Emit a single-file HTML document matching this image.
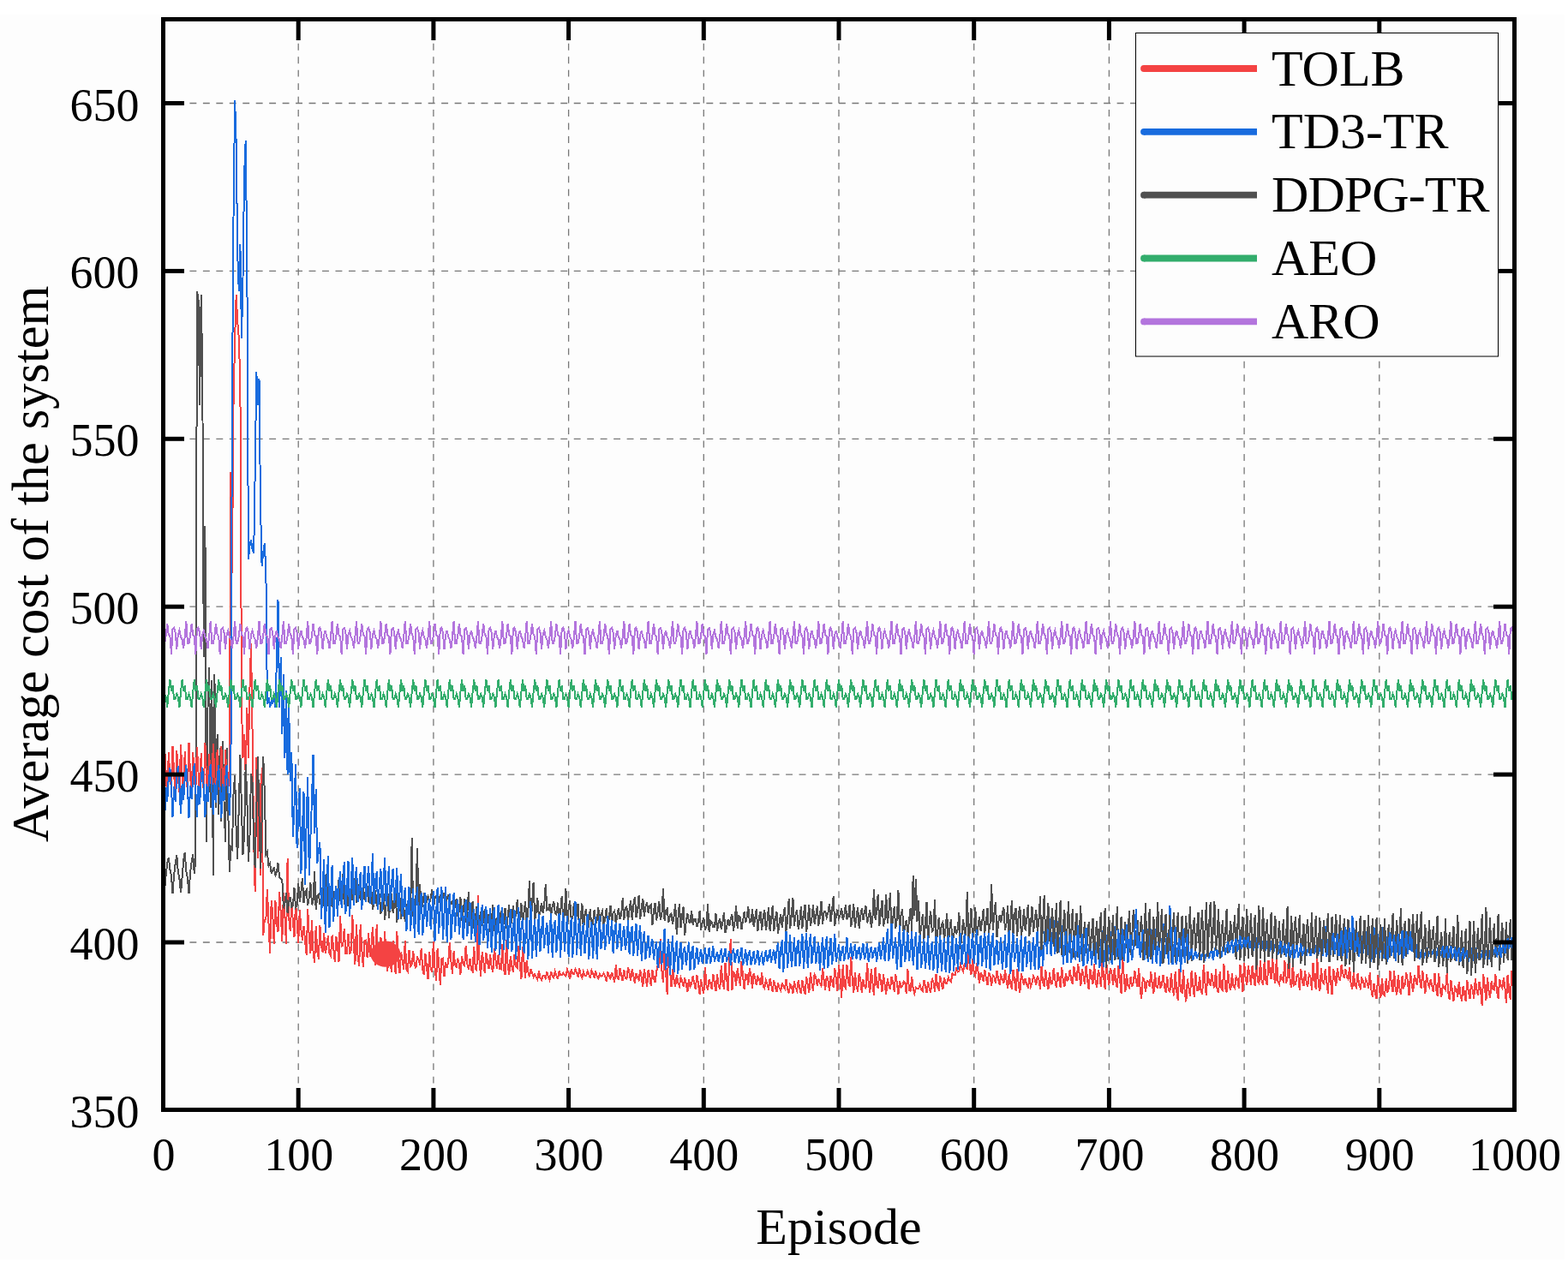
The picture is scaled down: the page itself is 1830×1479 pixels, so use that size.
<!DOCTYPE html>
<html><head><meta charset="utf-8"><title>Average cost of the system</title>
<style>html,body{margin:0;padding:0;background:#fff;} svg{display:block;}</style></head>
<body>
<svg width="1830" height="1479" viewBox="0 0 1830 1479">
<rect width="1830" height="1479" fill="#fff"/>
<rect x="0" y="17" width="1826" height="1453" fill="#fdfdfd"/>
<g stroke="#777" stroke-width="1.3" stroke-dasharray="7.9 7.56" fill="none"><line x1="348.2" y1="1295.5" x2="348.2" y2="22.5"/><line x1="505.9" y1="1295.5" x2="505.9" y2="22.5"/><line x1="663.6" y1="1295.5" x2="663.6" y2="22.5"/><line x1="821.3" y1="1295.5" x2="821.3" y2="22.5"/><line x1="979.0" y1="1295.5" x2="979.0" y2="22.5"/><line x1="1136.7" y1="1295.5" x2="1136.7" y2="22.5"/><line x1="1294.4" y1="1295.5" x2="1294.4" y2="22.5"/><line x1="1452.1" y1="1295.5" x2="1452.1" y2="22.5"/><line x1="1609.8" y1="1295.5" x2="1609.8" y2="22.5"/><line x1="190.5" y1="1100.0" x2="1767.5" y2="1100.0"/><line x1="190.5" y1="904.1" x2="1767.5" y2="904.1"/><line x1="190.5" y1="708.2" x2="1767.5" y2="708.2"/><line x1="190.5" y1="512.3" x2="1767.5" y2="512.3"/><line x1="190.5" y1="316.4" x2="1767.5" y2="316.4"/><line x1="190.5" y1="120.5" x2="1767.5" y2="120.5"/></g>
<g clip-path="url(#clip)">
<polyline fill="none" stroke="#F44343" stroke-width="2" stroke-linejoin="miter" shape-rendering="crispEdges" points="190.5,924.3 192.1,871.9 193.7,902.3 195.2,931.1 196.8,878.4 198.4,906.0 200.0,920.9 201.5,870.9 203.1,901.2 204.7,934.5 206.3,875.8 207.8,907.8 209.4,924.6 211.0,868.6 212.6,907.2 214.2,933.5 215.7,877.1 217.3,907.2 218.9,922.0 220.5,866.8 222.0,902.2 223.6,931.2 225.2,877.8 226.8,910.5 228.3,922.7 229.9,872.1 231.5,901.3 233.1,933.6 234.7,878.6 236.2,911.0 237.8,921.5 239.4,867.1 241.0,906.4 242.5,931.8 244.1,879.7 245.7,906.8 247.3,923.5 248.8,868.3 250.4,906.4 252.0,931.6 253.6,875.3 255.2,905.9 256.7,924.3 258.3,870.7 259.9,903.8 261.5,932.2 263.0,875.4 264.6,908.3 266.2,923.0 267.8,896.3 269.4,551.5 270.9,669.0 272.5,473.1 274.1,394.8 275.7,343.8 277.2,375.2 278.8,394.8 280.4,449.6 282.0,825.7 283.5,884.5 285.1,857.1 286.7,904.1 288.3,825.7 289.9,884.5 291.4,806.1 293.0,751.3 294.6,857.1 296.2,982.5 297.7,1041.2 299.3,884.5 300.9,1002.1 302.5,911.9 304.0,1021.6 305.6,896.3 307.2,1092.2 308.8,1074.0 310.4,1072.9 311.9,1037.6 313.5,1078.1 315.1,1112.5 316.7,1050.7 318.2,1065.3 319.8,1102.4 321.4,1050.6 323.0,1078.8 324.5,1088.0 326.1,1040.8 327.7,1065.2 329.3,1098.8 330.9,1042.2 332.4,1070.0 334.0,1102.3 335.6,1002.1 337.2,1071.3 338.7,1087.1 340.3,1055.7 341.9,1075.4 343.5,1094.0 345.0,1053.4 346.6,1075.2 348.2,1100.6 349.8,1062.1 351.4,1084.9 352.9,1097.6 354.5,1081.2 356.1,1098.9 357.7,1115.2 359.2,1061.3 360.8,1094.4 362.4,1112.5 364.0,1074.1 365.5,1110.1 367.1,1123.6 368.7,1080.8 370.3,1110.2 371.9,1119.7 373.4,1080.1 375.0,1104.9 376.6,1111.6 378.2,1088.6 379.7,1113.0 381.3,1105.7 382.9,1091.9 384.5,1112.6 386.0,1115.7 387.6,1091.6 389.2,1107.2 390.8,1122.8 392.4,1092.9 393.9,1102.7 395.5,1122.8 397.1,1069.0 398.7,1104.8 400.2,1103.9 401.8,1083.9 403.4,1113.1 405.0,1112.9 406.5,1090.3 408.1,1114.1 409.7,1109.8 411.3,1068.4 412.9,1104.7 414.4,1125.6 416.0,1079.0 417.6,1116.8 419.2,1128.0 420.7,1078.9 422.3,1108.4 423.9,1128.9 425.5,1098.1 427.1,1097.4 428.6,1117.9 430.2,1089.1 431.8,1116.7 433.4,1105.1 434.9,1082.2 436.5,1110.3 438.1,1127.2 439.7,1078.8 441.2,1118.4 442.8,1121.9 444.4,1094.1 446.0,1110.1 447.6,1118.0 449.1,1087.4 450.7,1122.0 452.3,1133.6 453.9,1108.1 455.4,1122.6 457.0,1135.2 458.6,1097.9 460.2,1119.9 461.7,1137.2 463.3,1086.9 464.9,1126.1 466.5,1135.9 468.1,1111.6 469.6,1120.6 471.2,1131.7 472.8,1098.1 474.4,1131.9 475.9,1134.2 477.5,1108.7 479.1,1127.9 480.7,1125.8 482.2,1110.6 483.8,1125.5 485.4,1130.2 487.0,1116.4 488.6,1120.6 490.1,1126.4 491.7,1107.2 493.3,1132.5 494.9,1137.7 496.4,1113.0 498.0,1129.3 499.6,1143.1 501.2,1111.1 502.7,1131.5 504.3,1134.9 505.9,1098.7 507.5,1129.5 509.1,1145.1 510.6,1106.8 512.2,1125.1 513.8,1149.6 515.4,1119.5 516.9,1118.8 518.5,1140.2 520.1,1123.3 521.7,1129.7 523.2,1123.0 524.8,1099.8 526.4,1121.5 528.0,1136.5 529.6,1110.3 531.1,1125.8 532.7,1128.7 534.3,1118.7 535.9,1125.7 537.4,1137.9 539.0,1115.8 540.6,1125.8 542.2,1127.5 543.7,1103.7 545.3,1124.8 546.9,1131.6 548.5,1118.9 550.1,1132.3 551.6,1134.2 553.2,1104.6 554.8,1130.9 556.4,1132.3 557.9,1045.1 559.5,1120.6 561.1,1139.5 562.7,1111.4 564.2,1121.4 565.8,1136.1 567.4,1112.1 569.0,1122.8 570.6,1131.3 572.1,1113.9 573.7,1129.1 575.3,1134.9 576.9,1106.8 578.4,1119.9 580.0,1131.3 581.6,1113.6 583.2,1131.3 584.8,1131.5 586.3,1102.3 587.9,1132.0 589.5,1138.2 591.1,1097.4 592.6,1126.3 594.2,1138.1 595.8,1115.8 597.4,1128.2 598.9,1135.1 600.5,1113.8 602.1,1128.2 603.7,1129.7 605.3,1103.7 606.8,1127.1 608.4,1143.3 610.0,1105.5 611.6,1124.3 613.1,1141.5 614.7,1120.8 616.3,1134.4 617.9,1140.3 619.4,1131.3 621.0,1135.9 622.6,1140.3 624.2,1137.2 625.8,1140.5 627.3,1143.4 628.9,1133.2 630.5,1141.4 632.1,1143.7 633.6,1138.9 635.2,1139.1 636.8,1142.0 638.4,1134.3 639.9,1140.2 641.5,1144.1 643.1,1134.0 644.7,1139.2 646.3,1141.4 647.8,1133.6 649.4,1138.5 651.0,1143.0 652.6,1133.0 654.1,1138.4 655.7,1138.5 657.3,1135.4 658.9,1138.3 660.4,1139.4 662.0,1131.4 663.6,1135.7 665.2,1142.9 666.8,1131.2 668.3,1136.5 669.9,1136.6 671.5,1131.6 673.1,1135.9 674.6,1140.4 676.2,1130.4 677.8,1138.4 679.4,1141.3 680.9,1134.1 682.5,1138.6 684.1,1139.2 685.7,1133.8 687.3,1137.3 688.8,1141.9 690.4,1132.4 692.0,1136.4 693.6,1141.6 695.1,1133.3 696.7,1139.4 698.3,1142.0 699.9,1137.3 701.4,1139.6 703.0,1138.8 704.6,1135.9 706.2,1139.9 707.8,1145.6 709.3,1134.4 710.9,1139.9 712.5,1142.2 714.1,1135.0 715.6,1140.2 717.2,1146.6 718.8,1126.2 720.4,1140.1 721.9,1144.1 723.5,1129.8 725.1,1138.1 726.7,1145.3 728.3,1132.0 729.8,1141.8 731.4,1142.5 733.0,1128.7 734.6,1136.6 736.1,1144.8 737.7,1131.6 739.3,1138.5 740.9,1147.9 742.5,1136.2 744.0,1141.3 745.6,1143.8 747.2,1132.5 748.8,1142.1 750.3,1151.5 751.9,1131.1 753.5,1142.0 755.1,1152.1 756.6,1132.3 758.2,1139.0 759.8,1150.7 761.4,1132.5 763.0,1142.1 764.5,1147.3 766.1,1134.9 767.7,1126.1 769.3,1129.7 770.8,1096.1 772.4,1132.8 774.0,1147.2 775.6,1103.9 777.1,1133.7 778.7,1160.9 780.3,1100.7 781.9,1131.4 783.5,1151.9 785.0,1131.5 786.6,1144.2 788.2,1151.9 789.8,1138.2 791.3,1147.3 792.9,1151.2 794.5,1141.0 796.1,1144.7 797.6,1151.7 799.2,1141.6 800.8,1148.7 802.4,1157.9 804.0,1143.0 805.5,1151.6 807.1,1148.3 808.7,1139.6 810.3,1147.5 811.8,1154.8 813.4,1138.3 815.0,1148.6 816.6,1160.7 818.1,1143.0 819.7,1153.1 821.3,1159.9 822.9,1129.4 824.5,1150.2 826.0,1155.6 827.6,1143.4 829.2,1148.0 830.8,1154.9 832.3,1136.7 833.9,1148.1 835.5,1156.7 837.1,1137.5 838.6,1149.5 840.2,1155.0 841.8,1127.3 843.4,1146.4 845.0,1154.7 846.5,1124.3 848.1,1142.5 849.7,1157.3 851.3,1120.7 852.8,1096.1 854.4,1156.3 856.0,1135.0 857.6,1137.3 859.1,1150.6 860.7,1130.5 862.3,1140.6 863.9,1150.9 865.5,1122.2 867.0,1138.0 868.6,1155.1 870.2,1137.5 871.8,1138.1 873.3,1149.8 874.9,1130.4 876.5,1139.4 878.1,1154.0 879.6,1136.4 881.2,1141.6 882.8,1150.2 884.4,1139.9 886.0,1143.0 887.5,1150.1 889.1,1135.1 890.7,1151.1 892.3,1153.8 893.8,1144.2 895.4,1148.3 897.0,1155.5 898.6,1142.4 900.1,1148.9 901.7,1158.0 903.3,1144.6 904.9,1152.3 906.5,1158.0 908.0,1147.6 909.6,1153.2 911.2,1156.4 912.8,1146.9 914.3,1151.9 915.9,1154.1 917.5,1143.3 919.1,1154.9 920.7,1159.3 922.2,1149.0 923.8,1151.5 925.4,1160.2 927.0,1145.1 928.5,1152.7 930.1,1156.6 931.7,1144.3 933.3,1154.4 934.8,1159.9 936.4,1144.0 938.0,1154.5 939.6,1160.7 941.2,1140.2 942.7,1149.1 944.3,1158.7 945.9,1135.5 947.5,1147.7 949.0,1156.6 950.6,1137.2 952.2,1140.6 953.8,1150.9 955.3,1142.7 956.9,1148.1 958.5,1151.0 960.1,1130.0 961.7,1145.3 963.2,1155.6 964.8,1139.5 966.4,1143.8 968.0,1157.2 969.5,1139.0 971.1,1145.2 972.7,1153.0 974.3,1129.9 975.8,1141.8 977.4,1156.9 979.0,1125.7 980.6,1142.6 982.2,1164.7 983.7,1126.1 985.3,1151.1 986.9,1153.4 988.5,1126.4 990.0,1145.7 991.6,1151.6 993.2,1117.0 994.8,1143.9 996.3,1159.2 997.9,1135.0 999.5,1151.1 1001.1,1157.7 1002.7,1135.9 1004.2,1142.8 1005.8,1158.6 1007.4,1143.1 1009.0,1151.0 1010.5,1153.4 1012.1,1124.1 1013.7,1147.7 1015.3,1158.5 1016.8,1131.2 1018.4,1146.9 1020.0,1162.3 1021.6,1128.8 1023.2,1148.6 1024.7,1153.6 1026.3,1136.5 1027.9,1144.9 1029.5,1157.7 1031.0,1137.2 1032.6,1149.5 1034.2,1160.7 1035.8,1142.3 1037.3,1150.7 1038.9,1155.0 1040.5,1140.4 1042.1,1146.2 1043.7,1157.6 1045.2,1137.2 1046.8,1146.8 1048.4,1160.9 1050.0,1144.7 1051.5,1152.5 1053.1,1151.2 1054.7,1145.5 1056.3,1147.2 1057.8,1160.2 1059.4,1131.3 1061.0,1156.1 1062.6,1156.6 1064.2,1140.6 1065.7,1154.3 1067.3,1159.8 1068.9,1153.1 1070.5,1154.4 1072.0,1154.2 1073.6,1149.7 1075.2,1155.1 1076.8,1156.6 1078.4,1143.9 1079.9,1151.2 1081.5,1158.6 1083.1,1146.5 1084.7,1154.1 1086.2,1158.9 1087.8,1141.7 1089.4,1146.7 1091.0,1157.7 1092.5,1137.1 1094.1,1152.0 1095.7,1155.1 1097.3,1139.5 1098.9,1149.3 1100.4,1154.7 1102.0,1141.1 1103.6,1148.2 1105.2,1147.8 1106.7,1140.9 1108.3,1144.5 1109.9,1146.1 1111.5,1136.4 1113.0,1138.4 1114.6,1138.2 1116.2,1130.9 1117.8,1134.5 1119.4,1133.8 1120.9,1126.4 1122.5,1129.9 1124.1,1133.8 1125.7,1125.1 1127.2,1126.2 1128.8,1131.9 1130.4,1112.6 1132.0,1130.4 1133.5,1137.7 1135.1,1119.5 1136.7,1135.3 1138.3,1138.9 1139.9,1124.3 1141.4,1133.4 1143.0,1148.0 1144.6,1135.0 1146.2,1139.4 1147.7,1145.5 1149.3,1131.8 1150.9,1142.1 1152.5,1150.1 1154.0,1135.1 1155.6,1139.4 1157.2,1150.5 1158.8,1139.0 1160.4,1140.8 1161.9,1147.9 1163.5,1133.1 1165.1,1142.7 1166.7,1149.5 1168.2,1138.4 1169.8,1142.4 1171.4,1148.0 1173.0,1131.9 1174.5,1144.0 1176.1,1153.7 1177.7,1137.3 1179.3,1147.8 1180.9,1154.9 1182.4,1131.7 1184.0,1143.8 1185.6,1156.7 1187.2,1130.8 1188.7,1148.7 1190.3,1158.4 1191.9,1136.6 1193.5,1143.4 1195.0,1150.3 1196.6,1142.1 1198.2,1148.6 1199.8,1152.5 1201.4,1141.6 1202.9,1151.5 1204.5,1147.2 1206.1,1139.5 1207.7,1143.7 1209.2,1150.2 1210.8,1138.9 1212.4,1143.2 1214.0,1154.5 1215.5,1128.1 1217.1,1146.3 1218.7,1151.7 1220.3,1131.7 1221.9,1147.3 1223.4,1155.0 1225.0,1135.5 1226.6,1148.7 1228.2,1148.3 1229.7,1129.8 1231.3,1144.0 1232.9,1152.7 1234.5,1135.5 1236.1,1142.2 1237.6,1153.0 1239.2,1128.9 1240.8,1144.7 1242.4,1152.2 1243.9,1135.7 1245.5,1144.8 1247.1,1142.9 1248.7,1132.1 1250.2,1143.9 1251.8,1148.9 1253.4,1128.0 1255.0,1138.6 1256.6,1145.1 1258.1,1124.8 1259.7,1137.0 1261.3,1151.4 1262.9,1131.5 1264.4,1138.5 1266.0,1148.5 1267.6,1127.0 1269.2,1145.4 1270.7,1154.7 1272.3,1130.9 1273.9,1140.3 1275.5,1148.6 1277.1,1125.1 1278.6,1145.2 1280.2,1152.8 1281.8,1132.4 1283.4,1138.7 1284.9,1152.2 1286.5,1123.2 1288.1,1139.5 1289.7,1155.0 1291.2,1122.1 1292.8,1139.6 1294.4,1149.5 1296.0,1129.7 1297.6,1137.2 1299.1,1150.2 1300.7,1129.6 1302.3,1146.3 1303.9,1153.2 1305.4,1126.6 1307.0,1142.4 1308.6,1160.1 1310.2,1118.1 1311.7,1140.0 1313.3,1158.3 1314.9,1136.9 1316.5,1150.5 1318.1,1152.7 1319.6,1139.9 1321.2,1151.6 1322.8,1146.4 1324.4,1133.2 1325.9,1145.9 1327.5,1152.0 1329.1,1130.1 1330.7,1154.5 1332.2,1165.6 1333.8,1142.0 1335.4,1143.6 1337.0,1157.9 1338.6,1145.1 1340.1,1145.9 1341.7,1151.4 1343.3,1134.5 1344.9,1150.3 1346.4,1159.5 1348.0,1135.1 1349.6,1152.4 1351.2,1153.2 1352.7,1139.0 1354.3,1153.8 1355.9,1149.3 1357.5,1137.9 1359.1,1151.6 1360.6,1158.7 1362.2,1140.6 1363.8,1155.6 1365.4,1157.4 1366.9,1136.0 1368.5,1153.2 1370.1,1162.4 1371.7,1133.6 1373.2,1156.6 1374.8,1168.0 1376.4,1131.2 1378.0,1156.7 1379.6,1158.8 1381.1,1132.3 1382.7,1158.2 1384.3,1169.4 1385.9,1142.6 1387.4,1153.0 1389.0,1162.8 1390.6,1133.3 1392.2,1149.2 1393.8,1163.9 1395.3,1134.8 1396.9,1155.9 1398.5,1155.8 1400.1,1139.9 1401.6,1156.7 1403.2,1161.2 1404.8,1125.7 1406.4,1147.2 1407.9,1162.3 1409.5,1133.6 1411.1,1147.5 1412.7,1149.4 1414.3,1136.6 1415.8,1148.1 1417.4,1153.3 1419.0,1131.4 1420.6,1155.1 1422.1,1159.2 1423.7,1134.3 1425.3,1153.6 1426.9,1155.8 1428.4,1124.6 1430.0,1152.7 1431.6,1158.4 1433.2,1133.5 1434.8,1151.1 1436.3,1156.0 1437.9,1135.9 1439.5,1150.6 1441.1,1153.3 1442.6,1140.2 1444.2,1143.3 1445.8,1153.9 1447.4,1125.6 1448.9,1140.8 1450.5,1157.8 1452.1,1123.6 1453.7,1142.0 1455.3,1150.0 1456.8,1127.6 1458.4,1137.6 1460.0,1149.6 1461.6,1126.7 1463.1,1139.6 1464.7,1151.1 1466.3,1121.0 1467.9,1145.4 1469.4,1148.0 1471.0,1120.7 1472.6,1145.6 1474.2,1149.6 1475.8,1119.0 1477.3,1143.8 1478.9,1150.1 1480.5,1121.1 1482.1,1133.3 1483.6,1143.1 1485.2,1119.0 1486.8,1140.2 1488.4,1147.5 1489.9,1117.8 1491.5,1145.5 1493.1,1149.0 1494.7,1137.6 1496.3,1143.3 1497.8,1145.4 1499.4,1120.8 1501.0,1148.3 1502.6,1141.0 1504.1,1114.1 1505.7,1146.4 1507.3,1153.0 1508.9,1122.4 1510.4,1150.1 1512.0,1148.8 1513.6,1138.4 1515.2,1137.5 1516.8,1155.9 1518.3,1131.5 1519.9,1145.4 1521.5,1150.9 1523.1,1132.9 1524.6,1146.0 1526.2,1152.1 1527.8,1137.3 1529.4,1140.1 1531.0,1155.8 1532.5,1124.3 1534.1,1142.2 1535.7,1154.8 1537.3,1118.3 1538.8,1148.7 1540.4,1157.1 1542.0,1130.3 1543.6,1146.8 1545.1,1148.1 1546.7,1131.2 1548.3,1146.2 1549.9,1159.7 1551.5,1127.8 1553.0,1144.8 1554.6,1161.4 1556.2,1130.8 1557.8,1141.4 1559.3,1150.6 1560.9,1130.0 1562.5,1140.7 1564.1,1144.9 1565.6,1126.4 1567.2,1135.6 1568.8,1142.0 1570.4,1131.6 1572.0,1140.7 1573.5,1142.9 1575.1,1129.3 1576.7,1148.8 1578.3,1154.9 1579.8,1135.0 1581.4,1150.6 1583.0,1152.8 1584.6,1135.7 1586.1,1150.1 1587.7,1153.7 1589.3,1141.7 1590.9,1145.1 1592.5,1153.2 1594.0,1143.4 1595.6,1147.1 1597.2,1153.5 1598.8,1134.9 1600.3,1154.9 1601.9,1164.3 1603.5,1147.7 1605.1,1159.7 1606.6,1165.8 1608.2,1137.6 1609.8,1153.5 1611.4,1164.7 1613.0,1142.3 1614.5,1160.2 1616.1,1162.1 1617.7,1142.4 1619.3,1158.4 1620.8,1154.2 1622.4,1133.0 1624.0,1149.1 1625.6,1158.3 1627.1,1133.2 1628.7,1154.9 1630.3,1161.3 1631.9,1137.7 1633.5,1153.8 1635.0,1161.3 1636.6,1138.9 1638.2,1152.4 1639.8,1149.2 1641.3,1135.5 1642.9,1145.0 1644.5,1162.4 1646.1,1135.2 1647.6,1149.2 1649.2,1157.6 1650.8,1138.3 1652.4,1145.2 1654.0,1149.7 1655.5,1126.6 1657.1,1144.0 1658.7,1154.2 1660.3,1132.9 1661.8,1147.5 1663.4,1159.5 1665.0,1137.5 1666.6,1148.0 1668.1,1152.0 1669.7,1143.1 1671.3,1150.9 1672.9,1158.3 1674.5,1135.6 1676.0,1154.7 1677.6,1162.7 1679.2,1136.2 1680.8,1157.0 1682.3,1163.9 1683.9,1150.3 1685.5,1152.9 1687.1,1155.3 1688.7,1135.8 1690.2,1158.6 1691.8,1166.9 1693.4,1143.9 1695.0,1156.5 1696.5,1168.5 1698.1,1152.5 1699.7,1154.7 1701.3,1163.5 1702.8,1145.7 1704.4,1160.4 1706.0,1168.7 1707.6,1151.0 1709.2,1160.0 1710.7,1169.0 1712.3,1143.9 1713.9,1158.6 1715.5,1165.8 1717.0,1148.7 1718.6,1155.5 1720.2,1165.9 1721.8,1142.5 1723.3,1154.7 1724.9,1161.5 1726.5,1145.9 1728.1,1156.4 1729.7,1173.9 1731.2,1137.1 1732.8,1151.6 1734.4,1168.4 1736.0,1140.9 1737.5,1156.4 1739.1,1164.5 1740.7,1145.1 1742.3,1154.1 1743.8,1155.3 1745.4,1137.5 1747.0,1157.5 1748.6,1165.6 1750.2,1142.9 1751.7,1150.3 1753.3,1153.4 1754.9,1141.3 1756.5,1154.1 1758.0,1171.0 1759.6,1137.9 1761.2,1156.3 1762.8,1167.2 1764.3,1133.1 1765.9,1147.1 1767.5,1168.2"/>
<polyline fill="none" stroke="#505050" stroke-width="2" stroke-linejoin="miter" shape-rendering="crispEdges" points="190.5,974.6 192.1,1039.1 193.7,1021.0 195.2,1007.3 196.8,1001.2 198.4,1014.9 200.0,1022.6 201.5,1042.9 203.1,1021.0 204.7,1008.0 206.3,998.5 207.8,1017.8 209.4,1025.3 211.0,1042.3 212.6,1024.1 214.2,1003.9 215.7,995.2 217.3,1016.5 218.9,1025.6 220.5,1042.9 222.0,1020.0 223.6,1005.8 225.2,997.4 226.8,1020.3 228.3,1002.1 229.9,339.9 231.5,347.7 233.1,473.1 234.7,343.8 236.2,426.1 237.8,767.0 239.4,614.2 241.0,982.5 242.5,825.7 244.1,778.7 245.7,943.3 247.3,794.4 248.8,1021.6 250.4,786.6 252.0,943.3 253.6,857.1 255.2,951.1 256.7,872.8 258.3,959.0 259.9,864.9 261.5,935.4 263.0,982.5 264.6,872.8 266.2,943.3 267.8,1017.7 269.4,988.6 270.9,991.3 272.5,927.3 274.1,905.3 275.7,971.5 277.2,1002.5 278.8,940.5 280.4,880.8 282.0,946.4 283.5,997.5 285.1,974.6 286.7,892.4 288.3,930.1 289.9,1005.9 291.4,980.4 293.0,903.1 294.6,913.8 296.2,986.8 297.7,1012.7 299.3,943.8 300.9,883.1 302.5,952.7 304.0,1014.1 305.6,957.3 307.2,883.2 308.8,924.0 310.4,997.0 311.9,994.2 313.5,1011.1 315.1,1007.8 316.7,1019.5 318.2,1015.6 319.8,1013.3 321.4,1021.8 323.0,1017.7 324.5,1007.5 326.1,1024.3 327.7,1025.7 329.3,1026.6 330.9,1060.3 332.4,1055.1 334.0,1042.1 335.6,1065.8 337.2,1052.2 338.7,1046.9 340.3,1058.8 341.9,1057.4 343.5,1036.5 345.0,1059.2 346.6,1056.8 348.2,1030.8 349.8,1053.3 351.4,1041.6 352.9,1024.8 354.5,1054.2 356.1,1040.8 357.7,1038.8 359.2,1057.1 360.8,1047.1 362.4,1030.3 364.0,1056.3 365.5,1051.9 367.1,1016.7 368.7,1062.2 370.3,1046.0 371.9,1044.4 373.4,1054.8 375.0,1052.3 376.6,1034.7 378.2,1058.4 379.7,1051.6 381.3,1020.5 382.9,1057.9 384.5,1041.5 386.0,1035.2 387.6,1059.0 389.2,1041.2 390.8,1041.0 392.4,1048.1 393.9,1042.4 395.5,1027.5 397.1,1052.3 398.7,1044.0 400.2,1019.8 401.8,1056.3 403.4,1043.6 405.0,1031.2 406.5,1057.5 408.1,1042.1 409.7,1038.0 411.3,1050.9 412.9,1038.2 414.4,1024.8 416.0,1053.5 417.6,1040.2 419.2,1032.0 420.7,1051.0 422.3,1038.7 423.9,1035.3 425.5,1049.5 427.1,1048.3 428.6,1034.0 430.2,1052.7 431.8,1053.3 433.4,1039.1 434.9,1062.1 436.5,1053.9 438.1,1039.0 439.7,1057.7 441.2,1050.4 442.8,1042.6 444.4,1066.6 446.0,1057.2 447.6,1043.1 449.1,1073.8 450.7,1053.5 452.3,1038.8 453.9,1071.9 455.4,1055.8 457.0,1043.5 458.6,1065.6 460.2,1057.7 461.7,1042.0 463.3,1076.7 464.9,1057.9 466.5,1047.5 468.1,1072.6 469.6,1060.2 471.2,1058.9 472.8,1075.9 474.4,1068.3 475.9,1051.1 477.5,1066.8 479.1,1065.1 480.7,978.5 482.2,1069.9 483.8,1061.9 485.4,1048.6 487.0,990.3 488.6,1059.8 490.1,1032.0 491.7,1062.5 493.3,1055.9 494.9,1042.5 496.4,1065.9 498.0,1049.4 499.6,1046.2 501.2,1053.7 502.7,1048.2 504.3,1038.1 505.9,1061.3 507.5,1048.5 509.1,1045.6 510.6,1058.4 512.2,1051.3 513.8,1044.6 515.4,1053.9 516.9,1047.7 518.5,1042.1 520.1,1053.7 521.7,1049.6 523.2,1044.0 524.8,1058.4 526.4,1052.7 528.0,1052.1 529.6,1063.7 531.1,1057.1 532.7,1049.1 534.3,1067.1 535.9,1063.6 537.4,1046.9 539.0,1074.5 540.6,1064.8 542.2,1048.9 543.7,1077.0 545.3,1066.5 546.9,1040.6 548.5,1080.9 550.1,1070.1 551.6,1052.4 553.2,1084.0 554.8,1072.3 556.4,1058.0 557.9,1077.6 559.5,1075.3 561.1,1063.7 562.7,1080.9 564.2,1076.2 565.8,1060.8 567.4,1085.6 569.0,1074.9 570.6,1067.1 572.1,1087.8 573.7,1077.4 575.3,1056.0 576.9,1086.5 578.4,1075.6 580.0,1071.4 581.6,1084.1 583.2,1074.2 584.8,1063.2 586.3,1087.6 587.9,1076.5 589.5,1059.8 591.1,1083.7 592.6,1070.5 594.2,1055.8 595.8,1082.5 597.4,1072.8 598.9,1057.3 600.5,1070.9 602.1,1069.4 603.7,1050.3 605.3,1082.0 606.8,1072.2 608.4,1054.1 610.0,1078.7 611.6,1064.0 613.1,1052.1 614.7,1076.7 616.3,1065.4 617.9,1028.0 619.4,1078.1 621.0,1057.3 622.6,1029.6 624.2,1073.2 625.8,1064.4 627.3,1047.6 628.9,1070.5 630.5,1063.7 632.1,1053.7 633.6,1066.1 635.2,1056.8 636.8,1032.0 638.4,1062.3 639.9,1061.9 641.5,1054.7 643.1,1068.7 644.7,1058.1 646.3,1052.5 647.8,1065.6 649.4,1067.4 651.0,1053.6 652.6,1073.8 654.1,1064.6 655.7,1046.3 657.3,1074.9 658.9,1066.4 660.4,1036.6 662.0,1082.9 663.6,1060.9 665.2,1051.4 666.8,1075.2 668.3,1070.9 669.9,1054.2 671.5,1074.7 673.1,1066.6 674.6,1054.8 676.2,1087.8 677.8,1070.1 679.4,1054.6 680.9,1087.7 682.5,1067.1 684.1,1061.0 685.7,1090.1 687.3,1076.6 688.8,1061.5 690.4,1083.7 692.0,1077.6 693.6,1062.6 695.1,1079.1 696.7,1074.7 698.3,1058.7 699.9,1081.9 701.4,1067.5 703.0,1063.8 704.6,1080.0 706.2,1072.8 707.8,1060.3 709.3,1085.6 710.9,1070.2 712.5,1056.9 714.1,1078.1 715.6,1065.4 717.2,1063.3 718.8,1078.4 720.4,1068.9 721.9,1060.4 723.5,1072.8 725.1,1068.3 726.7,1048.3 728.3,1074.0 729.8,1060.4 731.4,1058.6 733.0,1075.3 734.6,1062.4 736.1,1050.8 737.7,1073.7 739.3,1056.3 740.9,1046.7 742.5,1070.8 744.0,1064.0 745.6,1045.4 747.2,1072.5 748.8,1059.5 750.3,1048.7 751.9,1070.1 753.5,1058.0 755.1,1053.0 756.6,1065.7 758.2,1057.6 759.8,1056.0 761.4,1079.7 763.0,1062.7 764.5,1053.9 766.1,1074.4 767.7,1063.6 769.3,1052.2 770.8,1074.3 772.4,1067.5 774.0,1037.0 775.6,1075.3 777.1,1063.3 778.7,1060.8 780.3,1076.7 781.9,1068.5 783.5,1066.9 785.0,1078.9 786.6,1069.4 788.2,1055.1 789.8,1091.1 791.3,1073.7 792.9,1054.9 794.5,1083.2 796.1,1068.3 797.6,1058.6 799.2,1092.0 800.8,1075.6 802.4,1066.2 804.0,1076.2 805.5,1077.1 807.1,1063.4 808.7,1079.6 810.3,1073.0 811.8,1072.7 813.4,1082.2 815.0,1076.1 816.6,1063.1 818.1,1085.8 819.7,1076.6 821.3,1071.1 822.9,1085.6 824.5,1081.3 826.0,1055.4 827.6,1088.0 829.2,1074.9 830.8,1076.3 832.3,1082.0 833.9,1081.8 835.5,1066.5 837.1,1087.3 838.6,1076.9 840.2,1072.5 841.8,1084.7 843.4,1076.6 845.0,1064.8 846.5,1088.7 848.1,1082.6 849.7,1073.1 851.3,1080.5 852.8,1072.5 854.4,1067.6 856.0,1086.8 857.6,1075.4 859.1,1056.6 860.7,1083.7 862.3,1069.5 863.9,1071.1 865.5,1084.8 867.0,1075.3 868.6,1064.4 870.2,1077.1 871.8,1069.6 873.3,1058.2 874.9,1076.5 876.5,1075.9 878.1,1061.2 879.6,1081.5 881.2,1072.6 882.8,1061.1 884.4,1087.2 886.0,1070.1 887.5,1063.9 889.1,1086.2 890.7,1070.7 892.3,1061.9 893.8,1086.2 895.4,1076.2 897.0,1059.4 898.6,1086.5 900.1,1073.7 901.7,1057.2 903.3,1087.1 904.9,1071.8 906.5,1064.6 908.0,1090.1 909.6,1076.9 911.2,1067.5 912.8,1082.4 914.3,1069.0 915.9,1058.8 917.5,1086.6 919.1,1074.4 920.7,1049.3 922.2,1084.1 923.8,1068.0 925.4,1047.8 927.0,1080.9 928.5,1067.9 930.1,1062.2 931.7,1085.0 933.3,1076.1 934.8,1058.3 936.4,1083.7 938.0,1066.9 939.6,1055.9 941.2,1088.0 942.7,1073.6 944.3,1056.5 945.9,1081.2 947.5,1071.5 949.0,1055.7 950.6,1078.7 952.2,1069.0 953.8,1057.6 955.3,1080.8 956.9,1070.0 958.5,1052.1 960.1,1078.9 961.7,1063.7 963.2,1063.9 964.8,1070.7 966.4,1065.3 968.0,1055.2 969.5,1076.1 971.1,1062.8 972.7,1045.9 974.3,1080.7 975.8,1069.5 977.4,1061.7 979.0,1071.8 980.6,1067.7 982.2,1060.4 983.7,1073.4 985.3,1068.9 986.9,1056.5 988.5,1072.2 990.0,1070.4 991.6,1056.0 993.2,1082.2 994.8,1069.3 996.3,1055.2 997.9,1082.7 999.5,1071.1 1001.1,1059.1 1002.7,1083.5 1004.2,1069.5 1005.8,1060.0 1007.4,1074.3 1009.0,1064.1 1010.5,1057.6 1012.1,1077.4 1013.7,1070.4 1015.3,1062.3 1016.8,1082.5 1018.4,1071.5 1020.0,1038.5 1021.6,1073.7 1023.2,1063.3 1024.7,1044.2 1026.3,1080.5 1027.9,1066.2 1029.5,1050.7 1031.0,1081.4 1032.6,1073.2 1034.2,1043.7 1035.8,1077.7 1037.3,1066.1 1038.9,1042.0 1040.5,1086.3 1042.1,1073.6 1043.7,1058.3 1045.2,1083.5 1046.8,1072.9 1048.4,1038.7 1050.0,1087.3 1051.5,1068.1 1053.1,1061.1 1054.7,1089.9 1056.3,1081.5 1057.8,1073.7 1059.4,1090.1 1061.0,1074.5 1062.6,1060.4 1064.2,1086.7 1065.7,1021.6 1067.3,1068.7 1068.9,1025.6 1070.5,1075.5 1072.0,1050.9 1073.6,1090.9 1075.2,1083.1 1076.8,1067.1 1078.4,1096.0 1079.9,1080.2 1081.5,1052.9 1083.1,1102.2 1084.7,1076.4 1086.2,1063.6 1087.8,1087.0 1089.4,1085.1 1091.0,1050.3 1092.5,1100.3 1094.1,1089.6 1095.7,1070.7 1097.3,1092.5 1098.9,1079.3 1100.4,1076.5 1102.0,1097.4 1103.6,1083.2 1105.2,1065.6 1106.7,1102.1 1108.3,1085.1 1109.9,1073.5 1111.5,1100.4 1113.0,1093.0 1114.6,1080.9 1116.2,1090.3 1117.8,1084.5 1119.4,1065.5 1120.9,1107.7 1122.5,1090.9 1124.1,1072.9 1125.7,1087.6 1127.2,1092.1 1128.8,1041.2 1130.4,1095.1 1132.0,1087.0 1133.5,1060.4 1135.1,1096.4 1136.7,1085.5 1138.3,1058.9 1139.9,1098.2 1141.4,1082.4 1143.0,1069.8 1144.6,1086.9"/>
<polyline fill="none" stroke="#F44343" stroke-width="2" stroke-linejoin="miter" shape-rendering="crispEdges" points="190.5,924.3 192.1,871.9 193.7,902.3 195.2,931.1 196.8,878.4 198.4,906.0 200.0,920.9 201.5,870.9 203.1,901.2 204.7,934.5 206.3,875.8 207.8,907.8 209.4,924.6 211.0,868.6 212.6,907.2 214.2,933.5 215.7,877.1 217.3,907.2 218.9,922.0 220.5,866.8 222.0,902.2 223.6,931.2 225.2,877.8 226.8,910.5 228.3,922.7 229.9,872.1 231.5,901.3 233.1,933.6 234.7,878.6 236.2,911.0 237.8,921.5 239.4,867.1 241.0,906.4 242.5,931.8 244.1,879.7 245.7,906.8 247.3,923.5 248.8,868.3 250.4,906.4 252.0,931.6 253.6,875.3 255.2,905.9 256.7,924.3 258.3,870.7 259.9,903.8 261.5,932.2 263.0,875.4 264.6,908.3 266.2,923.0"/>
<polyline fill="none" stroke="#505050" stroke-width="2" stroke-linejoin="miter" shape-rendering="crispEdges" points="1128.8,1041.2 1130.4,1095.1 1132.0,1087.0 1133.5,1060.4 1135.1,1096.4 1136.7,1085.5 1138.3,1058.9 1139.9,1098.2 1141.4,1082.4 1143.0,1069.8 1144.6,1086.9 1146.2,1075.6 1147.7,1061.2 1149.3,1088.8 1150.9,1076.8 1152.5,1060.2 1154.0,1089.3 1155.6,1077.3 1157.2,1032.1 1158.8,1085.9 1160.4,1066.7 1161.9,1052.6 1163.5,1093.9 1165.1,1077.9 1166.7,1067.9 1168.2,1076.9 1169.8,1066.6 1171.4,1058.8 1173.0,1086.2 1174.5,1078.0 1176.1,1057.5 1177.7,1096.6 1179.3,1076.6 1180.9,1051.1 1182.4,1091.4 1184.0,1067.0 1185.6,1060.1 1187.2,1092.7 1188.7,1069.2 1190.3,1057.7 1191.9,1092.6 1193.5,1080.9 1195.0,1061.3 1196.6,1086.4 1198.2,1074.1 1199.8,1056.4 1201.4,1092.6 1202.9,1078.1 1204.5,1058.4 1206.1,1088.1 1207.7,1072.2 1209.2,1062.4 1210.8,1087.3 1212.4,1074.4 1214.0,1045.9 1215.5,1108.7 1217.1,1079.0 1218.7,1045.2 1220.3,1100.4 1221.9,1079.4 1223.4,1054.3 1225.0,1098.5 1226.6,1083.2 1228.2,1059.8 1229.7,1105.3 1231.3,1087.2 1232.9,1054.2 1234.5,1112.6 1236.1,1079.1 1237.6,1051.1 1239.2,1115.2 1240.8,1081.6 1242.4,1061.6 1243.9,1115.4 1245.5,1084.5 1247.1,1051.6 1248.7,1112.6 1250.2,1089.3 1251.8,1060.6 1253.4,1117.8 1255.0,1081.0 1256.6,1065.6 1258.1,1118.2 1259.7,1091.8 1261.3,1056.9 1262.9,1121.7 1264.4,1096.2 1266.0,1076.2 1267.6,1113.0 1269.2,1097.5 1270.7,1076.3 1272.3,1109.5 1273.9,1092.1 1275.5,1071.6 1277.1,1116.2 1278.6,1090.3 1280.2,1075.3 1281.8,1119.5 1283.4,1085.8 1284.9,1065.0 1286.5,1123.9 1288.1,1088.1 1289.7,1059.9 1291.2,1130.0 1292.8,1091.9 1294.4,1070.3 1296.0,1121.4 1297.6,1091.5 1299.1,1067.6 1300.7,1121.4 1302.3,1090.3 1303.9,1058.0 1305.4,1120.2 1307.0,1100.3 1308.6,1069.7 1310.2,1119.7 1311.7,1094.9 1313.3,1075.7 1314.9,1107.2 1316.5,1088.2 1318.1,1062.6 1319.6,1115.3 1321.2,1094.8 1322.8,1062.5 1324.4,1104.9 1325.9,1094.1 1327.5,1073.9 1329.1,1107.3 1330.7,1085.9 1332.2,1068.6 1333.8,1121.2 1335.4,1093.0 1337.0,1054.5 1338.6,1118.8 1340.1,1095.3 1341.7,1061.5 1343.3,1120.4 1344.9,1096.0 1346.4,1070.4 1348.0,1108.6 1349.6,1092.7 1351.2,1053.1 1352.7,1105.5 1354.3,1091.7 1355.9,1061.0 1357.5,1125.1 1359.1,1086.4 1360.6,1067.2 1362.2,1113.9 1363.8,1098.0 1365.4,1068.0 1366.9,1123.7 1368.5,1088.6 1370.1,1064.8 1371.7,1124.3 1373.2,1086.4 1374.8,1065.4 1376.4,1117.3 1378.0,1097.9 1379.6,1068.6 1381.1,1116.6 1382.7,1098.4 1384.3,1069.0 1385.9,1124.9 1387.4,1086.5 1389.0,1058.3 1390.6,1122.4 1392.2,1088.9 1393.8,1071.1 1395.3,1109.5 1396.9,1087.1 1398.5,1064.7 1400.1,1121.4 1401.6,1082.4 1403.2,1062.4 1404.8,1124.4 1406.4,1088.5 1407.9,1052.7 1409.5,1117.3 1411.1,1080.5 1412.7,1053.4 1414.3,1110.0 1415.8,1085.9 1417.4,1052.2 1419.0,1108.9 1420.6,1093.7 1422.1,1061.2 1423.7,1118.5 1425.3,1092.3 1426.9,1074.4 1428.4,1110.7 1430.0,1092.2 1431.6,1061.1 1433.2,1112.7 1434.8,1096.2 1436.3,1074.8 1437.9,1105.2 1439.5,1089.2 1441.1,1068.5 1442.6,1119.5 1444.2,1083.6 1445.8,1054.9 1447.4,1120.9 1448.9,1089.3 1450.5,1070.5 1452.1,1122.3 1453.7,1099.2 1455.3,1060.6 1456.8,1118.9 1458.4,1091.1 1460.0,1066.0 1461.6,1117.2 1463.1,1098.1 1464.7,1067.8 1466.3,1132.3 1467.9,1091.3 1469.4,1057.2 1471.0,1119.3 1472.6,1091.3 1474.2,1059.3 1475.8,1122.7 1477.3,1089.6 1478.9,1073.4 1480.5,1117.1 1482.1,1100.9 1483.6,1065.0 1485.2,1118.6 1486.8,1091.6 1488.4,1069.1 1489.9,1120.3 1491.5,1095.7 1493.1,1075.0 1494.7,1117.9 1496.3,1102.5 1497.8,1072.7 1499.4,1115.4 1501.0,1096.6 1502.6,1058.2 1504.1,1131.3 1505.7,1102.0 1507.3,1069.2 1508.9,1129.4 1510.4,1087.9 1512.0,1069.7 1513.6,1110.2 1515.2,1094.8 1516.8,1067.6 1518.3,1124.8 1519.9,1098.7 1521.5,1078.4 1523.1,1127.1 1524.6,1088.0 1526.2,1072.7 1527.8,1113.1 1529.4,1102.8 1531.0,1065.5 1532.5,1112.9 1534.1,1103.2 1535.7,1069.0 1537.3,1118.5 1538.8,1103.5 1540.4,1070.7 1542.0,1123.0 1543.6,1095.6 1545.1,1073.9 1546.7,1111.5 1548.3,1091.8 1549.9,1065.9 1551.5,1123.4 1553.0,1098.1 1554.6,1069.9 1556.2,1116.9 1557.8,1090.3 1559.3,1067.5 1560.9,1121.2 1562.5,1097.6 1564.1,1067.8 1565.6,1122.2 1567.2,1105.8 1568.8,1072.0 1570.4,1127.9 1572.0,1105.7 1573.5,1073.4 1575.1,1126.3 1576.7,1104.7 1578.3,1073.2 1579.8,1135.2 1581.4,1105.7 1583.0,1075.5 1584.6,1116.3 1586.1,1093.9 1587.7,1069.3 1589.3,1125.2 1590.9,1095.1 1592.5,1073.8 1594.0,1124.5 1595.6,1101.5 1597.2,1068.2 1598.8,1130.0 1600.3,1106.4 1601.9,1072.5 1603.5,1124.0 1605.1,1098.5 1606.6,1071.5 1608.2,1131.9 1609.8,1105.5 1611.4,1079.4 1613.0,1122.2 1614.5,1099.3 1616.1,1072.0 1617.7,1125.7 1619.3,1099.8 1620.8,1078.8 1622.4,1117.5 1624.0,1091.3 1625.6,1066.4 1627.1,1118.5 1628.7,1101.1 1630.3,1073.7 1631.9,1124.3 1633.5,1089.9 1635.0,1060.2 1636.6,1127.3 1638.2,1089.0 1639.8,1075.5 1641.3,1116.6 1642.9,1096.7 1644.5,1072.5 1646.1,1108.6 1647.6,1095.8 1649.2,1067.2 1650.8,1121.9 1652.4,1091.0 1654.0,1067.4 1655.5,1119.0 1657.1,1089.6 1658.7,1063.9 1660.3,1127.1 1661.8,1103.3 1663.4,1079.4 1665.0,1124.4 1666.6,1106.4 1668.1,1074.0 1669.7,1118.4 1671.3,1097.5 1672.9,1081.4 1674.5,1123.4 1676.0,1098.8 1677.6,1068.8 1679.2,1129.4 1680.8,1104.8 1682.3,1088.1 1683.9,1127.6 1685.5,1111.8 1687.1,1072.5 1688.7,1136.4 1690.2,1107.8 1691.8,1087.7 1693.4,1122.7 1695.0,1100.2 1696.5,1081.4 1698.1,1121.4 1699.7,1112.0 1701.3,1067.7 1702.8,1126.5 1704.4,1111.5 1706.0,1085.6 1707.6,1130.1 1709.2,1111.3 1710.7,1083.7 1712.3,1137.3 1713.9,1111.6 1715.5,1075.4 1717.0,1138.7 1718.6,1112.8 1720.2,1075.1 1721.8,1135.9 1723.3,1112.2 1724.9,1082.6 1726.5,1121.1 1728.1,1104.9 1729.7,1067.4 1731.2,1130.3 1732.8,1109.3 1734.4,1058.7 1736.0,1126.8 1737.5,1101.9 1739.1,1071.4 1740.7,1129.4 1742.3,1105.5 1743.8,1078.2 1745.4,1117.5 1747.0,1107.7 1748.6,1066.9 1750.2,1133.3 1751.7,1097.7 1753.3,1076.7 1754.9,1124.2 1756.5,1103.1 1758.0,1076.0 1759.6,1121.3 1761.2,1097.0 1762.8,1072.6 1764.3,1121.0 1765.9,1096.4 1767.5,1076.0"/>
<polyline fill="none" stroke="#186BDE" stroke-width="2" stroke-linejoin="miter" shape-rendering="crispEdges" points="190.5,919.8 192.1,954.8 193.7,918.8 195.2,935.7 196.8,907.5 198.4,896.6 200.0,918.1 201.5,954.1 203.1,917.7 204.7,936.0 206.3,906.3 207.8,894.0 209.4,917.3 211.0,950.3 212.6,915.5 214.2,933.5 215.7,909.0 217.3,893.4 218.9,918.9 220.5,954.5 222.0,917.3 223.6,932.8 225.2,909.2 226.8,891.3 228.3,922.6 229.9,953.5 231.5,917.5 233.1,939.0 234.7,906.6 236.2,895.6 237.8,919.2 239.4,954.4 241.0,915.4 242.5,935.9 244.1,908.2 245.7,892.1 247.3,920.7 248.8,950.5 250.4,913.9 252.0,937.4 253.6,909.3 255.2,893.2 256.7,921.8 258.3,955.0 259.9,915.2 261.5,934.6 263.0,910.5 264.6,893.5 266.2,919.9 267.8,951.8 269.4,904.1 270.9,473.1 272.5,253.7 274.1,116.6 275.7,167.5 277.2,296.8 278.8,339.9 280.4,285.1 282.0,394.8 283.5,324.2 285.1,202.8 286.7,163.6 288.3,300.7 289.9,653.3 291.4,637.7 293.0,629.8 294.6,641.6 296.2,645.5 297.7,551.5 299.3,433.9 300.9,473.1 302.5,441.8 304.0,590.7 305.6,661.2 307.2,645.5 308.8,633.8 310.4,669.0 311.9,821.8 313.5,814.0 315.1,825.7 316.7,817.9 318.2,821.8 319.8,810.1 321.4,825.7 323.0,767.0 324.5,700.4 326.1,825.7 327.7,767.0 329.3,857.1 330.9,786.6 332.4,884.5 334.0,806.1 335.6,904.1 337.2,825.7 338.7,911.9 340.3,877.6 341.9,977.1 343.5,941.0 345.0,892.2 346.6,990.0 348.2,951.4 349.8,919.7 351.4,1020.4 352.9,968.9 354.5,924.5 356.1,1033.3 357.7,958.6 359.2,907.4 360.8,1022.1 362.4,976.8 364.0,933.2 365.5,880.6 367.1,973.3 368.7,921.1 370.3,1008.4 371.9,992.7 373.4,983.1 375.0,1072.5 376.6,1035.3 378.2,1002.7 379.7,1089.2 381.3,1040.5 382.9,999.3 384.5,1082.6 386.0,1045.2 387.6,1009.6 389.2,1075.5 390.8,1044.6 392.4,1034.1 393.9,1069.8 395.5,1037.4 397.1,1017.1 398.7,1060.4 400.2,1028.9 401.8,1005.6 403.4,1066.7 405.0,1036.1 406.5,1005.0 408.1,1070.3 409.7,1033.5 411.3,1001.4 412.9,1057.0 414.4,1027.9 416.0,1012.5 417.6,1052.8 419.2,1039.2 420.7,1017.6 422.3,1061.8 423.9,1027.3 425.5,1011.0 427.1,1052.8 428.6,1029.5 430.2,1011.0 431.8,1054.8 433.4,1037.5 434.9,996.0 436.5,1055.6 438.1,1027.7 439.7,1017.5 441.2,1061.6 442.8,1032.4 444.4,1013.7 446.0,1064.0 447.6,1031.1 449.1,1001.1 450.7,1058.3 452.3,1034.5 453.9,1011.1 455.4,1062.9 457.0,1031.7 458.6,1013.6 460.2,1053.6 461.7,1041.2 463.3,1013.4 464.9,1072.5 466.5,1041.9 468.1,1019.8 469.6,1070.1 471.2,1051.7 472.8,1036.0 474.4,1086.5 475.9,1061.5 477.5,1035.2 479.1,1087.1 480.7,1060.5 482.2,1037.4 483.8,1094.7 485.4,1059.2 487.0,1034.9 488.6,1091.4 490.1,1062.7 491.7,1041.7 493.3,1091.8 494.9,1066.6 496.4,1042.2 498.0,1082.4 499.6,1061.4 501.2,1048.7 502.7,1085.4 504.3,1061.0 505.9,1039.9 507.5,1098.6 509.1,1065.9 510.6,1036.4 512.2,1089.5 513.8,1058.4 515.4,1034.6 516.9,1096.8 518.5,1066.2 520.1,1035.2 521.7,1099.8 523.2,1063.7 524.8,1043.2 526.4,1097.2 528.0,1071.3 529.6,1042.5 531.1,1088.4 532.7,1061.6 534.3,1049.9 535.9,1090.6 537.4,1071.8 539.0,1056.7 540.6,1096.5 542.2,1074.4 543.7,1049.7 545.3,1092.9 546.9,1070.6 548.5,1053.5 550.1,1096.8 551.6,1071.6 553.2,1061.0 554.8,1100.4 556.4,1075.3 557.9,1054.3 559.5,1103.1 561.1,1082.0 562.7,1056.5 564.2,1097.6 565.8,1084.1 567.4,1058.3 569.0,1107.3 570.6,1082.8 572.1,1060.0 573.7,1112.1 575.3,1075.3 576.9,1058.8 578.4,1110.2 580.0,1082.5 581.6,1055.9 583.2,1114.8 584.8,1081.4 586.3,1059.4 587.9,1109.4 589.5,1080.8 591.1,1069.6 592.6,1108.0 594.2,1085.4 595.8,1061.0 597.4,1110.7 598.9,1086.5 600.5,1062.2 602.1,1119.8 603.7,1086.1 605.3,1059.4 606.8,1109.2 608.4,1084.5 610.0,1071.6 611.6,1113.0 613.1,1095.2 614.7,1071.5 616.3,1120.3 617.9,1089.4 619.4,1052.0 621.0,1119.4 622.6,1089.2 624.2,1073.1 625.8,1117.0 627.3,1090.6 628.9,1067.3 630.5,1110.7 632.1,1085.9 633.6,1069.4 635.2,1106.9 636.8,1087.2 638.4,1077.2 639.9,1112.7 641.5,1087.8 643.1,1065.8 644.7,1117.9 646.3,1085.8 647.8,1074.1 649.4,1111.7 651.0,1088.6 652.6,1066.1 654.1,1117.6 655.7,1084.3 657.3,1065.5 658.9,1111.0 660.4,1089.7 662.0,1069.4 663.6,1116.8 665.2,1090.0 666.8,1071.0 668.3,1118.2 669.9,1090.6 671.5,1052.4 673.1,1114.7 674.6,1087.2 676.2,1072.0 677.8,1115.7 679.4,1088.4 680.9,1077.0 682.5,1113.4 684.1,1093.2 685.7,1067.4 687.3,1120.3 688.8,1088.4 690.4,1076.0 692.0,1118.9 693.6,1090.0 695.1,1069.6 696.7,1120.0 698.3,1090.8 699.9,1069.0 701.4,1108.1 703.0,1092.9 704.6,1078.4 706.2,1109.4 707.8,1088.5 709.3,1068.7 710.9,1101.7 712.5,1093.1 714.1,1074.3 715.6,1113.1 717.2,1088.6 718.8,1077.0 720.4,1107.6 721.9,1091.0 723.5,1078.0 725.1,1110.0 726.7,1091.3 728.3,1080.7 729.8,1109.1 731.4,1096.6 733.0,1074.1 734.6,1113.7 736.1,1090.7 737.7,1081.1 739.3,1115.6 740.9,1093.0 742.5,1078.2 744.0,1116.4 745.6,1094.9 747.2,1080.0 748.8,1121.7 750.3,1100.4 751.9,1087.2 753.5,1119.5 755.1,1104.9 756.6,1091.6 758.2,1118.3 759.8,1102.5 761.4,1096.0 763.0,1120.4 764.5,1107.8 766.1,1099.3 767.7,1129.5 769.3,1106.3 770.8,1097.7 772.4,1125.8 774.0,1107.0 775.6,1083.7 777.1,1132.4 778.7,1114.7 780.3,1096.4 781.9,1137.7 783.5,1111.4 785.0,1092.5 786.6,1134.8 788.2,1114.2 789.8,1097.6 791.3,1136.6 792.9,1112.0 794.5,1100.1 796.1,1132.1 797.6,1110.7 799.2,1105.3 800.8,1127.0 802.4,1112.6 804.0,1099.6 805.5,1132.5 807.1,1112.5 808.7,1104.5 810.3,1132.4 811.8,1116.4 813.4,1106.2 815.0,1126.1 816.6,1116.8 818.1,1108.2 819.7,1125.1 821.3,1114.9 822.9,1106.2 824.5,1124.7 826.0,1117.3 827.6,1106.6 829.2,1124.8 830.8,1114.7 832.3,1104.4 833.9,1122.7 835.5,1116.6 837.1,1111.2 838.6,1122.5 840.2,1115.9 841.8,1107.2 843.4,1123.9 845.0,1114.4 846.5,1106.9 848.1,1122.4 849.7,1116.0 851.3,1110.4 852.8,1126.9 854.4,1113.9 856.0,1107.0 857.6,1124.0 859.1,1114.9 860.7,1108.1 862.3,1124.4 863.9,1114.4 865.5,1105.9 867.0,1127.3 868.6,1118.4 870.2,1108.4 871.8,1126.6 873.3,1115.1 874.9,1109.6 876.5,1126.4 878.1,1119.3 879.6,1110.0 881.2,1125.5 882.8,1117.6 884.4,1109.4 886.0,1126.4 887.5,1117.0 889.1,1113.4 890.7,1126.9 892.3,1118.1 893.8,1109.4 895.4,1122.3 897.0,1117.3 898.6,1108.2 900.1,1123.5 901.7,1114.6 903.3,1108.7 904.9,1124.5 906.5,1109.8 908.0,1100.6 909.6,1131.2 911.2,1106.9 912.8,1097.5 914.3,1134.8 915.9,1106.4 917.5,1086.7 919.1,1129.6 920.7,1110.2 922.2,1091.2 923.8,1129.2 925.4,1112.1 927.0,1094.4 928.5,1128.2 930.1,1106.5 931.7,1096.9 933.3,1128.2 934.8,1105.9 936.4,1089.9 938.0,1131.1 939.6,1107.5 941.2,1088.7 942.7,1129.7 944.3,1107.8 945.9,1089.7 947.5,1124.5 949.0,1110.3 950.6,1093.2 952.2,1125.4 953.8,1110.3 955.3,1099.7 956.9,1132.8 958.5,1110.9 960.1,1094.4 961.7,1131.0 963.2,1109.8 964.8,1092.7 966.4,1129.8 968.0,1110.3 969.5,1094.6 971.1,1126.1 972.7,1109.2 974.3,1090.4 975.8,1123.3 977.4,1112.9 979.0,1102.6 980.6,1122.1 982.2,1112.2 983.7,1104.1 985.3,1121.8 986.9,1110.9 988.5,1094.5 990.0,1119.8 991.6,1112.6 993.2,1101.3 994.8,1120.1 996.3,1110.9 997.9,1102.4 999.5,1119.4 1001.1,1110.7 1002.7,1105.0 1004.2,1121.0 1005.8,1110.5 1007.4,1101.1 1009.0,1120.3 1010.5,1112.6 1012.1,1101.0 1013.7,1123.2 1015.3,1112.8 1016.8,1104.8 1018.4,1118.7 1020.0,1110.2 1021.6,1106.2 1023.2,1123.0 1024.7,1109.6 1026.3,1100.5 1027.9,1120.3 1029.5,1109.4 1031.0,1093.6 1032.6,1122.0 1034.2,1105.1 1035.8,1084.3 1037.3,1122.4 1038.9,1106.9 1040.5,1077.8 1042.1,1118.8 1043.7,1105.5 1045.2,1094.3 1046.8,1131.7 1048.4,1106.7 1050.0,1079.7 1051.5,1129.4 1053.1,1108.2 1054.7,1085.4 1056.3,1122.5 1057.8,1108.3 1059.4,1088.4 1061.0,1122.2 1062.6,1108.6 1064.2,1087.3 1065.7,1127.2 1067.3,1107.2 1068.9,1088.5 1070.5,1132.1 1072.0,1104.7 1073.6,1090.9 1075.2,1130.0 1076.8,1110.3 1078.4,1096.5 1079.9,1130.8 1081.5,1113.0 1083.1,1092.3 1084.7,1131.9 1086.2,1112.4 1087.8,1099.0 1089.4,1132.9 1091.0,1108.4 1092.5,1092.6 1094.1,1136.4 1095.7,1111.1 1097.3,1091.7 1098.9,1134.3 1100.4,1113.4 1102.0,1094.6 1103.6,1134.7 1105.2,1113.6 1106.7,1091.7 1108.3,1136.3 1109.9,1110.8 1111.5,1092.4 1113.0,1133.8 1114.6,1111.9 1116.2,1094.9 1117.8,1131.5 1119.4,1104.7 1120.9,1088.6 1122.5,1126.0 1124.1,1106.4 1125.7,1089.9 1127.2,1128.8 1128.8,1110.1 1130.4,1092.8 1132.0,1124.9 1133.5,1107.7 1135.1,1089.5 1136.7,1124.6 1138.3,1105.8 1139.9,1084.6 1141.4,1127.5 1143.0,1106.0 1144.6,1092.5 1146.2,1127.6 1147.7,1103.5 1149.3,1087.8 1150.9,1129.8 1152.5,1103.9 1154.0,1087.0 1155.6,1133.4 1157.2,1103.2 1158.8,1089.1 1160.4,1127.3 1161.9,1108.7 1163.5,1097.3 1165.1,1125.5 1166.7,1108.3 1168.2,1093.7 1169.8,1132.3 1171.4,1111.7 1173.0,1091.5 1174.5,1129.6 1176.1,1107.1 1177.7,1085.7 1179.3,1136.9 1180.9,1111.8 1182.4,1088.9 1184.0,1122.6 1185.6,1111.9 1187.2,1094.6 1188.7,1134.0 1190.3,1113.7 1191.9,1091.7 1193.5,1134.1 1195.0,1110.4 1196.6,1093.2 1198.2,1128.9 1199.8,1106.9 1201.4,1098.1 1202.9,1131.8 1204.5,1109.9 1206.1,1093.8 1207.7,1132.1 1209.2,1106.4 1210.8,1083.8 1212.4,1131.7 1214.0,1109.8 1215.5,1095.4 1217.1,1128.1 1218.7,1099.7 1220.3,1074.3 1221.9,1114.2 1223.4,1085.5 1225.0,1072.2 1226.6,1116.4 1228.2,1091.6 1229.7,1074.3 1231.3,1113.7 1232.9,1096.5 1234.5,1074.6 1236.1,1112.1 1237.6,1093.2 1239.2,1080.5 1240.8,1125.7 1242.4,1105.0 1243.9,1087.4 1245.5,1124.2 1247.1,1105.4 1248.7,1090.2 1250.2,1123.9 1251.8,1102.9 1253.4,1092.0 1255.0,1120.4 1256.6,1109.8 1258.1,1079.6 1259.7,1123.2 1261.3,1106.0 1262.9,1090.5 1264.4,1127.9 1266.0,1111.6 1267.6,1083.0 1269.2,1125.4 1270.7,1108.5 1272.3,1095.0 1273.9,1126.5 1275.5,1110.0 1277.1,1096.6 1278.6,1125.8 1280.2,1103.6 1281.8,1087.6 1283.4,1129.7 1284.9,1102.4 1286.5,1086.0 1288.1,1128.7 1289.7,1106.5 1291.2,1091.2 1292.8,1121.5 1294.4,1104.2 1296.0,1086.9 1297.6,1126.0 1299.1,1101.2 1300.7,1081.4 1302.3,1119.5 1303.9,1103.3 1305.4,1085.3 1307.0,1131.4 1308.6,1100.2 1310.2,1084.1 1311.7,1121.5 1313.3,1104.8 1314.9,1079.2 1316.5,1123.5 1318.1,1098.1 1319.6,1091.2 1321.2,1121.1 1322.8,1106.4 1324.4,1085.9 1325.9,1060.8 1327.5,1106.6 1329.1,1091.7 1330.7,1117.7 1332.2,1102.4 1333.8,1084.8 1335.4,1121.1 1337.0,1105.6 1338.6,1084.1 1340.1,1123.2 1341.7,1099.6 1343.3,1084.5 1344.9,1124.5 1346.4,1101.6 1348.0,1084.1 1349.6,1125.1 1351.2,1108.2 1352.7,1090.4 1354.3,1128.1 1355.9,1106.0 1357.5,1078.1 1359.1,1118.7 1360.6,1102.6 1362.2,1088.8 1363.8,1125.5 1365.4,1056.9 1366.9,1091.1 1368.5,1126.0 1370.1,1108.7 1371.7,1082.4 1373.2,1126.2 1374.8,1105.0 1376.4,1094.7 1378.0,1135.2 1379.6,1106.6 1381.1,1084.3 1382.7,1123.7 1384.3,1107.8 1385.9,1090.3 1387.4,1120.8 1389.0,1113.4 1390.6,1107.4 1392.2,1120.9 1393.8,1114.6 1395.3,1109.8 1396.9,1119.0 1398.5,1114.1 1400.1,1112.0 1401.6,1121.0 1403.2,1114.2 1404.8,1110.6 1406.4,1119.3 1407.9,1115.3 1409.5,1110.7 1411.1,1118.3 1412.7,1111.7 1414.3,1108.7 1415.8,1121.2 1417.4,1110.7 1419.0,1104.0 1420.6,1116.7 1422.1,1112.1 1423.7,1100.9 1425.3,1118.0 1426.9,1107.2 1428.4,1102.7 1430.0,1115.2 1431.6,1105.7 1433.2,1099.3 1434.8,1112.0 1436.3,1104.6 1437.9,1097.0 1439.5,1112.4 1441.1,1101.2 1442.6,1095.7 1444.2,1110.8 1445.8,1100.2 1447.4,1092.4 1448.9,1107.7 1450.5,1102.3 1452.1,1093.8 1453.7,1106.2 1455.3,1098.3 1456.8,1093.4 1458.4,1107.3 1460.0,1101.1 1461.6,1093.4 1463.1,1109.4 1464.7,1098.4 1466.3,1093.8 1467.9,1106.5 1469.4,1098.4 1471.0,1093.7 1472.6,1108.3 1474.2,1099.0 1475.8,1092.3 1477.3,1109.5 1478.9,1099.7 1480.5,1095.2 1482.1,1111.1 1483.6,1101.6 1485.2,1094.7 1486.8,1110.7 1488.4,1102.5 1489.9,1098.2 1491.5,1114.4 1493.1,1104.3 1494.7,1098.7 1496.3,1113.5 1497.8,1105.9 1499.4,1103.0 1501.0,1116.5 1502.6,1106.6 1504.1,1100.2 1505.7,1118.0 1507.3,1110.0 1508.9,1102.1 1510.4,1118.7 1512.0,1109.8 1513.6,1103.1 1515.2,1117.8 1516.8,1110.0 1518.3,1100.8 1519.9,1116.0 1521.5,1110.5 1523.1,1104.9 1524.6,1116.0 1526.2,1109.1 1527.8,1102.8 1529.4,1116.0 1531.0,1109.2 1532.5,1103.3 1534.1,1113.9 1535.7,1106.4 1537.3,1099.2 1538.8,1114.3 1540.4,1107.0 1542.0,1096.3 1543.6,1115.9 1545.1,1099.9 1546.7,1081.0 1548.3,1117.4 1549.9,1099.2 1551.5,1090.0 1553.0,1114.7 1554.6,1097.7 1556.2,1088.7 1557.8,1114.3 1559.3,1101.7 1560.9,1089.6 1562.5,1115.8 1564.1,1100.4 1565.6,1085.8 1567.2,1116.3 1568.8,1097.5 1570.4,1082.3 1572.0,1119.1 1573.5,1097.3 1575.1,1083.3 1576.7,1108.9 1578.3,1068.7 1579.8,1086.5 1581.4,1112.0 1583.0,1102.4 1584.6,1088.2 1586.1,1116.7 1587.7,1100.1 1589.3,1092.3 1590.9,1112.7 1592.5,1098.6 1594.0,1087.3 1595.6,1114.6 1597.2,1103.0 1598.8,1090.3 1600.3,1122.6 1601.9,1098.6 1603.5,1082.5 1605.1,1117.6 1606.6,1103.3 1608.2,1090.5 1609.8,1118.7 1611.4,1103.2 1613.0,1081.8 1614.5,1119.0 1616.1,1103.6 1617.7,1092.7 1619.3,1123.2 1620.8,1099.8 1622.4,1088.0 1624.0,1115.7 1625.6,1103.0 1627.1,1091.2 1628.7,1121.6 1630.3,1103.5 1631.9,1089.8 1633.5,1114.6 1635.0,1100.5 1636.6,1085.9 1638.2,1118.9 1639.8,1101.6 1641.3,1087.2 1642.9,1113.5 1644.5,1102.3 1646.1,1087.5 1647.6,1111.1 1649.2,1097.5 1650.8,1089.8 1652.4,1118.4 1654.0,1105.8 1655.5,1095.9 1657.1,1119.9 1658.7,1111.3 1660.3,1105.3 1661.8,1119.0 1663.4,1112.5 1665.0,1105.7 1666.6,1117.1 1668.1,1112.1 1669.7,1105.3 1671.3,1115.0 1672.9,1109.6 1674.5,1107.5 1676.0,1118.7 1677.6,1109.3 1679.2,1104.5 1680.8,1115.8 1682.3,1111.0 1683.9,1104.2 1685.5,1117.8 1687.1,1109.7 1688.7,1104.4 1690.2,1119.3 1691.8,1110.1 1693.4,1104.2 1695.0,1118.6 1696.5,1112.8 1698.1,1105.2 1699.7,1121.4 1701.3,1112.3 1702.8,1106.0 1704.4,1122.5 1706.0,1113.4 1707.6,1106.6 1709.2,1117.6 1710.7,1114.4 1712.3,1108.9 1713.9,1122.4 1715.5,1113.4 1717.0,1106.4 1718.6,1121.5 1720.2,1113.1 1721.8,1106.3 1723.3,1119.7 1724.9,1115.1 1726.5,1107.1 1728.1,1119.8 1729.7,1112.6 1731.2,1106.9 1732.8,1119.7 1734.4,1112.1 1736.0,1108.5 1737.5,1120.0 1739.1,1110.7 1740.7,1105.9 1742.3,1116.0 1743.8,1111.0 1745.4,1105.2 1747.0,1117.3 1748.6,1110.6 1750.2,1103.1 1751.7,1117.6 1753.3,1107.3 1754.9,1100.7 1756.5,1112.9 1758.0,1104.2 1759.6,1095.5 1761.2,1107.5 1762.8,1099.9 1764.3,1093.8 1765.9,1110.5 1767.5,1099.5"/>
<polyline fill="none" stroke="#505050" stroke-width="2" stroke-linejoin="miter" shape-rendering="crispEdges" points="1144.6,1086.9 1146.2,1075.6 1147.7,1061.2 1149.3,1088.8 1150.9,1076.8 1152.5,1060.2 1154.0,1089.3 1155.6,1077.3 1157.2,1032.1 1158.8,1085.9 1160.4,1066.7 1161.9,1052.6 1163.5,1093.9 1165.1,1077.9 1166.7,1067.9 1168.2,1076.9 1169.8,1066.6 1171.4,1058.8 1173.0,1086.2 1174.5,1078.0 1176.1,1057.5"/>
<polyline fill="none" stroke="#505050" stroke-width="2" stroke-linejoin="miter" shape-rendering="crispEdges" points="1207.7,1072.2 1209.2,1062.4 1210.8,1087.3 1212.4,1074.4 1214.0,1045.9 1215.5,1108.7 1217.1,1079.0 1218.7,1045.2 1220.3,1100.4 1221.9,1079.4 1223.4,1054.3 1225.0,1098.5 1226.6,1083.2 1228.2,1059.8 1229.7,1105.3 1231.3,1087.2 1232.9,1054.2 1234.5,1112.6 1236.1,1079.1 1237.6,1051.1 1239.2,1115.2"/>
<polyline fill="none" stroke="#505050" stroke-width="2" stroke-linejoin="miter" shape-rendering="crispEdges" points="1270.7,1076.3 1272.3,1109.5 1273.9,1092.1 1275.5,1071.6 1277.1,1116.2 1278.6,1090.3 1280.2,1075.3 1281.8,1119.5 1283.4,1085.8 1284.9,1065.0 1286.5,1123.9 1288.1,1088.1 1289.7,1059.9 1291.2,1130.0 1292.8,1091.9 1294.4,1070.3 1296.0,1121.4 1297.6,1091.5 1299.1,1067.6 1300.7,1121.4 1302.3,1090.3"/>
<polyline fill="none" stroke="#505050" stroke-width="2" stroke-linejoin="miter" shape-rendering="crispEdges" points="1333.8,1121.2 1335.4,1093.0 1337.0,1054.5 1338.6,1118.8 1340.1,1095.3 1341.7,1061.5 1343.3,1120.4 1344.9,1096.0 1346.4,1070.4 1348.0,1108.6 1349.6,1092.7 1351.2,1053.1 1352.7,1105.5 1354.3,1091.7 1355.9,1061.0 1357.5,1125.1 1359.1,1086.4 1360.6,1067.2 1362.2,1113.9 1363.8,1098.0 1365.4,1068.0"/>
<polyline fill="none" stroke="#505050" stroke-width="2" stroke-linejoin="miter" shape-rendering="crispEdges" points="1396.9,1087.1 1398.5,1064.7 1400.1,1121.4 1401.6,1082.4 1403.2,1062.4 1404.8,1124.4 1406.4,1088.5 1407.9,1052.7 1409.5,1117.3 1411.1,1080.5 1412.7,1053.4 1414.3,1110.0 1415.8,1085.9 1417.4,1052.2 1419.0,1108.9 1420.6,1093.7 1422.1,1061.2 1423.7,1118.5 1425.3,1092.3 1426.9,1074.4 1428.4,1110.7"/>
<polyline fill="none" stroke="#505050" stroke-width="2" stroke-linejoin="miter" shape-rendering="crispEdges" points="1460.0,1066.0 1461.6,1117.2 1463.1,1098.1 1464.7,1067.8 1466.3,1132.3 1467.9,1091.3 1469.4,1057.2 1471.0,1119.3 1472.6,1091.3 1474.2,1059.3 1475.8,1122.7 1477.3,1089.6 1478.9,1073.4 1480.5,1117.1 1482.1,1100.9 1483.6,1065.0 1485.2,1118.6 1486.8,1091.6 1488.4,1069.1 1489.9,1120.3 1491.5,1095.7"/>
<polyline fill="none" stroke="#505050" stroke-width="2" stroke-linejoin="miter" shape-rendering="crispEdges" points="1523.1,1127.1 1524.6,1088.0 1526.2,1072.7 1527.8,1113.1 1529.4,1102.8 1531.0,1065.5 1532.5,1112.9 1534.1,1103.2 1535.7,1069.0 1537.3,1118.5 1538.8,1103.5 1540.4,1070.7 1542.0,1123.0 1543.6,1095.6 1545.1,1073.9 1546.7,1111.5 1548.3,1091.8 1549.9,1065.9 1551.5,1123.4 1553.0,1098.1 1554.6,1069.9"/>
<polyline fill="none" stroke="#505050" stroke-width="2" stroke-linejoin="miter" shape-rendering="crispEdges" points="1586.1,1093.9 1587.7,1069.3 1589.3,1125.2 1590.9,1095.1 1592.5,1073.8 1594.0,1124.5 1595.6,1101.5 1597.2,1068.2 1598.8,1130.0 1600.3,1106.4 1601.9,1072.5 1603.5,1124.0 1605.1,1098.5 1606.6,1071.5 1608.2,1131.9 1609.8,1105.5 1611.4,1079.4 1613.0,1122.2 1614.5,1099.3 1616.1,1072.0 1617.7,1125.7"/>
<polyline fill="none" stroke="#505050" stroke-width="2" stroke-linejoin="miter" shape-rendering="crispEdges" points="1649.2,1067.2 1650.8,1121.9 1652.4,1091.0 1654.0,1067.4 1655.5,1119.0 1657.1,1089.6 1658.7,1063.9 1660.3,1127.1 1661.8,1103.3 1663.4,1079.4 1665.0,1124.4 1666.6,1106.4 1668.1,1074.0 1669.7,1118.4 1671.3,1097.5 1672.9,1081.4 1674.5,1123.4 1676.0,1098.8 1677.6,1068.8 1679.2,1129.4 1680.8,1104.8"/>
<polyline fill="none" stroke="#505050" stroke-width="2" stroke-linejoin="miter" shape-rendering="crispEdges" points="1712.3,1137.3 1713.9,1111.6 1715.5,1075.4 1717.0,1138.7 1718.6,1112.8 1720.2,1075.1 1721.8,1135.9 1723.3,1112.2 1724.9,1082.6 1726.5,1121.1 1728.1,1104.9 1729.7,1067.4 1731.2,1130.3 1732.8,1109.3 1734.4,1058.7 1736.0,1126.8 1737.5,1101.9 1739.1,1071.4 1740.7,1129.4 1742.3,1105.5 1743.8,1078.2"/>
<polyline fill="none" stroke="#32AD6C" stroke-width="2" stroke-linejoin="miter" shape-rendering="crispEdges" points="190.5,815.6 192.1,810.1 193.7,814.0 195.2,825.7 196.8,808.1 198.4,793.2 200.0,807.3 201.5,799.9 203.1,815.6 204.7,815.6 206.3,810.1 207.8,814.0 209.4,825.7 211.0,808.1 212.6,793.2 214.2,807.3 215.7,799.9 217.3,815.6 218.9,815.6 220.5,810.1 222.0,814.0 223.6,825.7 225.2,808.1 226.8,793.2 228.3,807.3 229.9,799.9 231.5,815.6 233.1,815.6 234.7,810.1 236.2,814.0 237.8,825.7 239.4,808.1 241.0,793.2 242.5,807.3 244.1,799.9 245.7,815.6 247.3,815.6 248.8,810.1 250.4,814.0 252.0,825.7 253.6,808.1 255.2,793.2 256.7,807.3 258.3,799.9 259.9,815.6 261.5,815.6 263.0,810.1 264.6,814.0 266.2,825.7 267.8,808.1 269.4,793.2 270.9,807.3 272.5,799.9 274.1,815.6 275.7,815.6 277.2,810.1 278.8,814.0 280.4,825.7 282.0,808.1 283.5,793.2 285.1,807.3 286.7,799.9 288.3,815.6 289.9,815.6 291.4,810.1 293.0,814.0 294.6,825.7 296.2,808.1 297.7,793.2 299.3,807.3 300.9,799.9 302.5,815.6 304.0,815.6 305.6,810.1 307.2,814.0 308.8,825.7 310.4,808.1 311.9,793.2 313.5,807.3 315.1,799.9 316.7,815.6 318.2,815.6 319.8,810.1 321.4,814.0 323.0,825.7 324.5,808.1 326.1,793.2 327.7,807.3 329.3,799.9 330.9,815.6 332.4,815.6 334.0,810.1 335.6,814.0 337.2,825.7 338.7,808.1 340.3,793.2 341.9,807.3 343.5,799.9 345.0,815.6 346.6,815.6 348.2,810.1 349.8,814.0 351.4,825.7 352.9,808.1 354.5,793.2 356.1,807.3 357.7,799.9 359.2,815.6 360.8,815.6 362.4,810.1 364.0,814.0 365.5,825.7 367.1,808.1 368.7,793.2 370.3,807.3 371.9,799.9 373.4,815.6 375.0,815.6 376.6,810.1 378.2,814.0 379.7,825.7 381.3,808.1 382.9,793.2 384.5,807.3 386.0,799.9 387.6,815.6 389.2,815.6 390.8,810.1 392.4,814.0 393.9,825.7 395.5,808.1 397.1,793.2 398.7,807.3 400.2,799.9 401.8,815.6 403.4,815.6 405.0,810.1 406.5,814.0 408.1,825.7 409.7,808.1 411.3,793.2 412.9,807.3 414.4,799.9 416.0,815.6 417.6,815.6 419.2,810.1 420.7,814.0 422.3,825.7 423.9,808.1 425.5,793.2 427.1,807.3 428.6,799.9 430.2,815.6 431.8,815.6 433.4,810.1 434.9,814.0 436.5,825.7 438.1,808.1 439.7,793.2 441.2,807.3 442.8,799.9 444.4,815.6 446.0,815.6 447.6,810.1 449.1,814.0 450.7,825.7 452.3,808.1 453.9,793.2 455.4,807.3 457.0,799.9 458.6,815.6 460.2,815.6 461.7,810.1 463.3,814.0 464.9,825.7 466.5,808.1 468.1,793.2 469.6,807.3 471.2,799.9 472.8,815.6 474.4,815.6 475.9,810.1 477.5,814.0 479.1,825.7 480.7,808.1 482.2,793.2 483.8,807.3 485.4,799.9 487.0,815.6 488.6,815.6 490.1,810.1 491.7,814.0 493.3,825.7 494.9,808.1 496.4,793.2 498.0,807.3 499.6,799.9 501.2,815.6 502.7,815.6 504.3,810.1 505.9,814.0 507.5,825.7 509.1,808.1 510.6,793.2 512.2,807.3 513.8,799.9 515.4,815.6 516.9,815.6 518.5,810.1 520.1,814.0 521.7,825.7 523.2,808.1 524.8,793.2 526.4,807.3 528.0,799.9 529.6,815.6 531.1,815.6 532.7,810.1 534.3,814.0 535.9,825.7 537.4,808.1 539.0,793.2 540.6,807.3 542.2,799.9 543.7,815.6 545.3,815.6 546.9,810.1 548.5,814.0 550.1,825.7 551.6,808.1 553.2,793.2 554.8,807.3 556.4,799.9 557.9,815.6 559.5,815.6 561.1,810.1 562.7,814.0 564.2,825.7 565.8,808.1 567.4,793.2 569.0,807.3 570.6,799.9 572.1,815.6 573.7,815.6 575.3,810.1 576.9,814.0 578.4,825.7 580.0,808.1 581.6,793.2 583.2,807.3 584.8,799.9 586.3,815.6 587.9,815.6 589.5,810.1 591.1,814.0 592.6,825.7 594.2,808.1 595.8,793.2 597.4,807.3 598.9,799.9 600.5,815.6 602.1,815.6 603.7,810.1 605.3,814.0 606.8,825.7 608.4,808.1 610.0,793.2 611.6,807.3 613.1,799.9 614.7,815.6 616.3,815.6 617.9,810.1 619.4,814.0 621.0,825.7 622.6,808.1 624.2,793.2 625.8,807.3 627.3,799.9 628.9,815.6 630.5,815.6 632.1,810.1 633.6,814.0 635.2,825.7 636.8,808.1 638.4,793.2 639.9,807.3 641.5,799.9 643.1,815.6 644.7,815.6 646.3,810.1 647.8,814.0 649.4,825.7 651.0,808.1 652.6,793.2 654.1,807.3 655.7,799.9 657.3,815.6 658.9,815.6 660.4,810.1 662.0,814.0 663.6,825.7 665.2,808.1 666.8,793.2 668.3,807.3 669.9,799.9 671.5,815.6 673.1,815.6 674.6,810.1 676.2,814.0 677.8,825.7 679.4,808.1 680.9,793.2 682.5,807.3 684.1,799.9 685.7,815.6 687.3,815.6 688.8,810.1 690.4,814.0 692.0,825.7 693.6,808.1 695.1,793.2 696.7,807.3 698.3,799.9 699.9,815.6 701.4,815.6 703.0,810.1 704.6,814.0 706.2,825.7 707.8,808.1 709.3,793.2 710.9,807.3 712.5,799.9 714.1,815.6 715.6,815.6 717.2,810.1 718.8,814.0 720.4,825.7 721.9,808.1 723.5,793.2 725.1,807.3 726.7,799.9 728.3,815.6 729.8,815.6 731.4,810.1 733.0,814.0 734.6,825.7 736.1,808.1 737.7,793.2 739.3,807.3 740.9,799.9 742.5,815.6 744.0,815.6 745.6,810.1 747.2,814.0 748.8,825.7 750.3,808.1 751.9,793.2 753.5,807.3 755.1,799.9 756.6,815.6 758.2,815.6 759.8,810.1 761.4,814.0 763.0,825.7 764.5,808.1 766.1,793.2 767.7,807.3 769.3,799.9 770.8,815.6 772.4,815.6 774.0,810.1 775.6,814.0 777.1,825.7 778.7,808.1 780.3,793.2 781.9,807.3 783.5,799.9 785.0,815.6 786.6,815.6 788.2,810.1 789.8,814.0 791.3,825.7 792.9,808.1 794.5,793.2 796.1,807.3 797.6,799.9 799.2,815.6 800.8,815.6 802.4,810.1 804.0,814.0 805.5,825.7 807.1,808.1 808.7,793.2 810.3,807.3 811.8,799.9 813.4,815.6 815.0,815.6 816.6,810.1 818.1,814.0 819.7,825.7 821.3,808.1 822.9,793.2 824.5,807.3 826.0,799.9 827.6,815.6 829.2,815.6 830.8,810.1 832.3,814.0 833.9,825.7 835.5,808.1 837.1,793.2 838.6,807.3 840.2,799.9 841.8,815.6 843.4,815.6 845.0,810.1 846.5,814.0 848.1,825.7 849.7,808.1 851.3,793.2 852.8,807.3 854.4,799.9 856.0,815.6 857.6,815.6 859.1,810.1 860.7,814.0 862.3,825.7 863.9,808.1 865.5,793.2 867.0,807.3 868.6,799.9 870.2,815.6 871.8,815.6 873.3,810.1 874.9,814.0 876.5,825.7 878.1,808.1 879.6,793.2 881.2,807.3 882.8,799.9 884.4,815.6 886.0,815.6 887.5,810.1 889.1,814.0 890.7,825.7 892.3,808.1 893.8,793.2 895.4,807.3 897.0,799.9 898.6,815.6 900.1,815.6 901.7,810.1 903.3,814.0 904.9,825.7 906.5,808.1 908.0,793.2 909.6,807.3 911.2,799.9 912.8,815.6 914.3,815.6 915.9,810.1 917.5,814.0 919.1,825.7 920.7,808.1 922.2,793.2 923.8,807.3 925.4,799.9 927.0,815.6 928.5,815.6 930.1,810.1 931.7,814.0 933.3,825.7 934.8,808.1 936.4,793.2 938.0,807.3 939.6,799.9 941.2,815.6 942.7,815.6 944.3,810.1 945.9,814.0 947.5,825.7 949.0,808.1 950.6,793.2 952.2,807.3 953.8,799.9 955.3,815.6 956.9,815.6 958.5,810.1 960.1,814.0 961.7,825.7 963.2,808.1 964.8,793.2 966.4,807.3 968.0,799.9 969.5,815.6 971.1,815.6 972.7,810.1 974.3,814.0 975.8,825.7 977.4,808.1 979.0,793.2 980.6,807.3 982.2,799.9 983.7,815.6 985.3,815.6 986.9,810.1 988.5,814.0 990.0,825.7 991.6,808.1 993.2,793.2 994.8,807.3 996.3,799.9 997.9,815.6 999.5,815.6 1001.1,810.1 1002.7,814.0 1004.2,825.7 1005.8,808.1 1007.4,793.2 1009.0,807.3 1010.5,799.9 1012.1,815.6 1013.7,815.6 1015.3,810.1 1016.8,814.0 1018.4,825.7 1020.0,808.1 1021.6,793.2 1023.2,807.3 1024.7,799.9 1026.3,815.6 1027.9,815.6 1029.5,810.1 1031.0,814.0 1032.6,825.7 1034.2,808.1 1035.8,793.2 1037.3,807.3 1038.9,799.9 1040.5,815.6 1042.1,815.6 1043.7,810.1 1045.2,814.0 1046.8,825.7 1048.4,808.1 1050.0,793.2 1051.5,807.3 1053.1,799.9 1054.7,815.6 1056.3,815.6 1057.8,810.1 1059.4,814.0 1061.0,825.7 1062.6,808.1 1064.2,793.2 1065.7,807.3 1067.3,799.9 1068.9,815.6 1070.5,815.6 1072.0,810.1 1073.6,814.0 1075.2,825.7 1076.8,808.1 1078.4,793.2 1079.9,807.3 1081.5,799.9 1083.1,815.6 1084.7,815.6 1086.2,810.1 1087.8,814.0 1089.4,825.7 1091.0,808.1 1092.5,793.2 1094.1,807.3 1095.7,799.9 1097.3,815.6 1098.9,815.6 1100.4,810.1 1102.0,814.0 1103.6,825.7 1105.2,808.1 1106.7,793.2 1108.3,807.3 1109.9,799.9 1111.5,815.6 1113.0,815.6 1114.6,810.1 1116.2,814.0 1117.8,825.7 1119.4,808.1 1120.9,793.2 1122.5,807.3 1124.1,799.9 1125.7,815.6 1127.2,815.6 1128.8,810.1 1130.4,814.0 1132.0,825.7 1133.5,808.1 1135.1,793.2 1136.7,807.3 1138.3,799.9 1139.9,815.6 1141.4,815.6 1143.0,810.1 1144.6,814.0 1146.2,825.7 1147.7,808.1 1149.3,793.2 1150.9,807.3 1152.5,799.9 1154.0,815.6 1155.6,815.6 1157.2,810.1 1158.8,814.0 1160.4,825.7 1161.9,808.1 1163.5,793.2 1165.1,807.3 1166.7,799.9 1168.2,815.6 1169.8,815.6 1171.4,810.1 1173.0,814.0 1174.5,825.7 1176.1,808.1 1177.7,793.2 1179.3,807.3 1180.9,799.9 1182.4,815.6 1184.0,815.6 1185.6,810.1 1187.2,814.0 1188.7,825.7 1190.3,808.1 1191.9,793.2 1193.5,807.3 1195.0,799.9 1196.6,815.6 1198.2,815.6 1199.8,810.1 1201.4,814.0 1202.9,825.7 1204.5,808.1 1206.1,793.2 1207.7,807.3 1209.2,799.9 1210.8,815.6 1212.4,815.6 1214.0,810.1 1215.5,814.0 1217.1,825.7 1218.7,808.1 1220.3,793.2 1221.9,807.3 1223.4,799.9 1225.0,815.6 1226.6,815.6 1228.2,810.1 1229.7,814.0 1231.3,825.7 1232.9,808.1 1234.5,793.2 1236.1,807.3 1237.6,799.9 1239.2,815.6 1240.8,815.6 1242.4,810.1 1243.9,814.0 1245.5,825.7 1247.1,808.1 1248.7,793.2 1250.2,807.3 1251.8,799.9 1253.4,815.6 1255.0,815.6 1256.6,810.1 1258.1,814.0 1259.7,825.7 1261.3,808.1 1262.9,793.2 1264.4,807.3 1266.0,799.9 1267.6,815.6 1269.2,815.6 1270.7,810.1 1272.3,814.0 1273.9,825.7 1275.5,808.1 1277.1,793.2 1278.6,807.3 1280.2,799.9 1281.8,815.6 1283.4,815.6 1284.9,810.1 1286.5,814.0 1288.1,825.7 1289.7,808.1 1291.2,793.2 1292.8,807.3 1294.4,799.9 1296.0,815.6 1297.6,815.6 1299.1,810.1 1300.7,814.0 1302.3,825.7 1303.9,808.1 1305.4,793.2 1307.0,807.3 1308.6,799.9 1310.2,815.6 1311.7,815.6 1313.3,810.1 1314.9,814.0 1316.5,825.7 1318.1,808.1 1319.6,793.2 1321.2,807.3 1322.8,799.9 1324.4,815.6 1325.9,815.6 1327.5,810.1 1329.1,814.0 1330.7,825.7 1332.2,808.1 1333.8,793.2 1335.4,807.3 1337.0,799.9 1338.6,815.6 1340.1,815.6 1341.7,810.1 1343.3,814.0 1344.9,825.7 1346.4,808.1 1348.0,793.2 1349.6,807.3 1351.2,799.9 1352.7,815.6 1354.3,815.6 1355.9,810.1 1357.5,814.0 1359.1,825.7 1360.6,808.1 1362.2,793.2 1363.8,807.3 1365.4,799.9 1366.9,815.6 1368.5,815.6 1370.1,810.1 1371.7,814.0 1373.2,825.7 1374.8,808.1 1376.4,793.2 1378.0,807.3 1379.6,799.9 1381.1,815.6 1382.7,815.6 1384.3,810.1 1385.9,814.0 1387.4,825.7 1389.0,808.1 1390.6,793.2 1392.2,807.3 1393.8,799.9 1395.3,815.6 1396.9,815.6 1398.5,810.1 1400.1,814.0 1401.6,825.7 1403.2,808.1 1404.8,793.2 1406.4,807.3 1407.9,799.9 1409.5,815.6 1411.1,815.6 1412.7,810.1 1414.3,814.0 1415.8,825.7 1417.4,808.1 1419.0,793.2 1420.6,807.3 1422.1,799.9 1423.7,815.6 1425.3,815.6 1426.9,810.1 1428.4,814.0 1430.0,825.7 1431.6,808.1 1433.2,793.2 1434.8,807.3 1436.3,799.9 1437.9,815.6 1439.5,815.6 1441.1,810.1 1442.6,814.0 1444.2,825.7 1445.8,808.1 1447.4,793.2 1448.9,807.3 1450.5,799.9 1452.1,815.6 1453.7,815.6 1455.3,810.1 1456.8,814.0 1458.4,825.7 1460.0,808.1 1461.6,793.2 1463.1,807.3 1464.7,799.9 1466.3,815.6 1467.9,815.6 1469.4,810.1 1471.0,814.0 1472.6,825.7 1474.2,808.1 1475.8,793.2 1477.3,807.3 1478.9,799.9 1480.5,815.6 1482.1,815.6 1483.6,810.1 1485.2,814.0 1486.8,825.7 1488.4,808.1 1489.9,793.2 1491.5,807.3 1493.1,799.9 1494.7,815.6 1496.3,815.6 1497.8,810.1 1499.4,814.0 1501.0,825.7 1502.6,808.1 1504.1,793.2 1505.7,807.3 1507.3,799.9 1508.9,815.6 1510.4,815.6 1512.0,810.1 1513.6,814.0 1515.2,825.7 1516.8,808.1 1518.3,793.2 1519.9,807.3 1521.5,799.9 1523.1,815.6 1524.6,815.6 1526.2,810.1 1527.8,814.0 1529.4,825.7 1531.0,808.1 1532.5,793.2 1534.1,807.3 1535.7,799.9 1537.3,815.6 1538.8,815.6 1540.4,810.1 1542.0,814.0 1543.6,825.7 1545.1,808.1 1546.7,793.2 1548.3,807.3 1549.9,799.9 1551.5,815.6 1553.0,815.6 1554.6,810.1 1556.2,814.0 1557.8,825.7 1559.3,808.1 1560.9,793.2 1562.5,807.3 1564.1,799.9 1565.6,815.6 1567.2,815.6 1568.8,810.1 1570.4,814.0 1572.0,825.7 1573.5,808.1 1575.1,793.2 1576.7,807.3 1578.3,799.9 1579.8,815.6 1581.4,815.6 1583.0,810.1 1584.6,814.0 1586.1,825.7 1587.7,808.1 1589.3,793.2 1590.9,807.3 1592.5,799.9 1594.0,815.6 1595.6,815.6 1597.2,810.1 1598.8,814.0 1600.3,825.7 1601.9,808.1 1603.5,793.2 1605.1,807.3 1606.6,799.9 1608.2,815.6 1609.8,815.6 1611.4,810.1 1613.0,814.0 1614.5,825.7 1616.1,808.1 1617.7,793.2 1619.3,807.3 1620.8,799.9 1622.4,815.6 1624.0,815.6 1625.6,810.1 1627.1,814.0 1628.7,825.7 1630.3,808.1 1631.9,793.2 1633.5,807.3 1635.0,799.9 1636.6,815.6 1638.2,815.6 1639.8,810.1 1641.3,814.0 1642.9,825.7 1644.5,808.1 1646.1,793.2 1647.6,807.3 1649.2,799.9 1650.8,815.6 1652.4,815.6 1654.0,810.1 1655.5,814.0 1657.1,825.7 1658.7,808.1 1660.3,793.2 1661.8,807.3 1663.4,799.9 1665.0,815.6 1666.6,815.6 1668.1,810.1 1669.7,814.0 1671.3,825.7 1672.9,808.1 1674.5,793.2 1676.0,807.3 1677.6,799.9 1679.2,815.6 1680.8,815.6 1682.3,810.1 1683.9,814.0 1685.5,825.7 1687.1,808.1 1688.7,793.2 1690.2,807.3 1691.8,799.9 1693.4,815.6 1695.0,815.6 1696.5,810.1 1698.1,814.0 1699.7,825.7 1701.3,808.1 1702.8,793.2 1704.4,807.3 1706.0,799.9 1707.6,815.6 1709.2,815.6 1710.7,810.1 1712.3,814.0 1713.9,825.7 1715.5,808.1 1717.0,793.2 1718.6,807.3 1720.2,799.9 1721.8,815.6 1723.3,815.6 1724.9,810.1 1726.5,814.0 1728.1,825.7 1729.7,808.1 1731.2,793.2 1732.8,807.3 1734.4,799.9 1736.0,815.6 1737.5,815.6 1739.1,810.1 1740.7,814.0 1742.3,825.7 1743.8,808.1 1745.4,793.2 1747.0,807.3 1748.6,799.9 1750.2,815.6 1751.7,815.6 1753.3,810.1 1754.9,814.0 1756.5,825.7 1758.0,808.1 1759.6,793.2 1761.2,807.3 1762.8,799.9 1764.3,815.6 1765.9,815.6 1767.5,810.1"/>
<polyline fill="none" stroke="#B375DD" stroke-width="2" stroke-linejoin="miter" shape-rendering="crispEdges" points="190.5,750.5 192.1,750.5 193.7,742.3 195.2,727.8 196.8,741.1 198.4,742.7 200.0,763.8 201.5,734.5 203.1,732.9 204.7,738.4 206.3,757.6 207.8,741.1 209.4,736.0 211.0,743.5 212.6,746.6 214.2,756.8 215.7,743.5 217.3,725.0 218.9,750.5 220.5,750.5 222.0,742.3 223.6,727.8 225.2,741.1 226.8,742.7 228.3,763.8 229.9,734.5 231.5,732.9 233.1,738.4 234.7,757.6 236.2,741.1 237.8,736.0 239.4,743.5 241.0,746.6 242.5,756.8 244.1,743.5 245.7,725.0 247.3,750.5 248.8,750.5 250.4,742.3 252.0,727.8 253.6,741.1 255.2,742.7 256.7,763.8 258.3,734.5 259.9,732.9 261.5,738.4 263.0,757.6 264.6,741.1 266.2,736.0 267.8,743.5 269.4,746.6 270.9,756.8 272.5,743.5 274.1,725.0 275.7,750.5 277.2,750.5 278.8,742.3 280.4,727.8 282.0,741.1 283.5,742.7 285.1,763.8 286.7,734.5 288.3,732.9 289.9,738.4 291.4,757.6 293.0,741.1 294.6,736.0 296.2,743.5 297.7,746.6 299.3,756.8 300.9,743.5 302.5,725.0 304.0,750.5 305.6,750.5 307.2,742.3 308.8,727.8 310.4,741.1 311.9,742.7 313.5,763.8 315.1,734.5 316.7,732.9 318.2,738.4 319.8,757.6 321.4,741.1 323.0,736.0 324.5,743.5 326.1,746.6 327.7,756.8 329.3,743.5 330.9,725.0 332.4,750.5 334.0,750.5 335.6,742.3 337.2,727.8 338.7,741.1 340.3,742.7 341.9,763.8 343.5,734.5 345.0,732.9 346.6,738.4 348.2,757.6 349.8,741.1 351.4,736.0 352.9,743.5 354.5,746.6 356.1,756.8 357.7,743.5 359.2,725.0 360.8,750.5 362.4,750.5 364.0,742.3 365.5,727.8 367.1,741.1 368.7,742.7 370.3,763.8 371.9,734.5 373.4,732.9 375.0,738.4 376.6,757.6 378.2,741.1 379.7,736.0 381.3,743.5 382.9,746.6 384.5,756.8 386.0,743.5 387.6,725.0 389.2,750.5 390.8,750.5 392.4,742.3 393.9,727.8 395.5,741.1 397.1,742.7 398.7,763.8 400.2,734.5 401.8,732.9 403.4,738.4 405.0,757.6 406.5,741.1 408.1,736.0 409.7,743.5 411.3,746.6 412.9,756.8 414.4,743.5 416.0,725.0 417.6,750.5 419.2,750.5 420.7,742.3 422.3,727.8 423.9,741.1 425.5,742.7 427.1,763.8 428.6,734.5 430.2,732.9 431.8,738.4 433.4,757.6 434.9,741.1 436.5,736.0 438.1,743.5 439.7,746.6 441.2,756.8 442.8,743.5 444.4,725.0 446.0,750.5 447.6,750.5 449.1,742.3 450.7,727.8 452.3,741.1 453.9,742.7 455.4,763.8 457.0,734.5 458.6,732.9 460.2,738.4 461.7,757.6 463.3,741.1 464.9,736.0 466.5,743.5 468.1,746.6 469.6,756.8 471.2,743.5 472.8,725.0 474.4,750.5 475.9,750.5 477.5,742.3 479.1,727.8 480.7,741.1 482.2,742.7 483.8,763.8 485.4,734.5 487.0,732.9 488.6,738.4 490.1,757.6 491.7,741.1 493.3,736.0 494.9,743.5 496.4,746.6 498.0,756.8 499.6,743.5 501.2,725.0 502.7,750.5 504.3,750.5 505.9,742.3 507.5,727.8 509.1,741.1 510.6,742.7 512.2,763.8 513.8,734.5 515.4,732.9 516.9,738.4 518.5,757.6 520.1,741.1 521.7,736.0 523.2,743.5 524.8,746.6 526.4,756.8 528.0,743.5 529.6,725.0 531.1,750.5 532.7,750.5 534.3,742.3 535.9,727.8 537.4,741.1 539.0,742.7 540.6,763.8 542.2,734.5 543.7,732.9 545.3,738.4 546.9,757.6 548.5,741.1 550.1,736.0 551.6,743.5 553.2,746.6 554.8,756.8 556.4,743.5 557.9,725.0 559.5,750.5 561.1,750.5 562.7,742.3 564.2,727.8 565.8,741.1 567.4,742.7 569.0,763.8 570.6,734.5 572.1,732.9 573.7,738.4 575.3,757.6 576.9,741.1 578.4,736.0 580.0,743.5 581.6,746.6 583.2,756.8 584.8,743.5 586.3,725.0 587.9,750.5 589.5,750.5 591.1,742.3 592.6,727.8 594.2,741.1 595.8,742.7 597.4,763.8 598.9,734.5 600.5,732.9 602.1,738.4 603.7,757.6 605.3,741.1 606.8,736.0 608.4,743.5 610.0,746.6 611.6,756.8 613.1,743.5 614.7,725.0 616.3,750.5 617.9,750.5 619.4,742.3 621.0,727.8 622.6,741.1 624.2,742.7 625.8,763.8 627.3,734.5 628.9,732.9 630.5,738.4 632.1,757.6 633.6,741.1 635.2,736.0 636.8,743.5 638.4,746.6 639.9,756.8 641.5,743.5 643.1,725.0 644.7,750.5 646.3,750.5 647.8,742.3 649.4,727.8 651.0,741.1 652.6,742.7 654.1,763.8 655.7,734.5 657.3,732.9 658.9,738.4 660.4,757.6 662.0,741.1 663.6,736.0 665.2,743.5 666.8,746.6 668.3,756.8 669.9,743.5 671.5,725.0 673.1,750.5 674.6,750.5 676.2,742.3 677.8,727.8 679.4,741.1 680.9,742.7 682.5,763.8 684.1,734.5 685.7,732.9 687.3,738.4 688.8,757.6 690.4,741.1 692.0,736.0 693.6,743.5 695.1,746.6 696.7,756.8 698.3,743.5 699.9,725.0 701.4,750.5 703.0,750.5 704.6,742.3 706.2,727.8 707.8,741.1 709.3,742.7 710.9,763.8 712.5,734.5 714.1,732.9 715.6,738.4 717.2,757.6 718.8,741.1 720.4,736.0 721.9,743.5 723.5,746.6 725.1,756.8 726.7,743.5 728.3,725.0 729.8,750.5 731.4,750.5 733.0,742.3 734.6,727.8 736.1,741.1 737.7,742.7 739.3,763.8 740.9,734.5 742.5,732.9 744.0,738.4 745.6,757.6 747.2,741.1 748.8,736.0 750.3,743.5 751.9,746.6 753.5,756.8 755.1,743.5 756.6,725.0 758.2,750.5 759.8,750.5 761.4,742.3 763.0,727.8 764.5,741.1 766.1,742.7 767.7,763.8 769.3,734.5 770.8,732.9 772.4,738.4 774.0,757.6 775.6,741.1 777.1,736.0 778.7,743.5 780.3,746.6 781.9,756.8 783.5,743.5 785.0,725.0 786.6,750.5 788.2,750.5 789.8,742.3 791.3,727.8 792.9,741.1 794.5,742.7 796.1,763.8 797.6,734.5 799.2,732.9 800.8,738.4 802.4,757.6 804.0,741.1 805.5,736.0 807.1,743.5 808.7,746.6 810.3,756.8 811.8,743.5 813.4,725.0 815.0,750.5 816.6,750.5 818.1,742.3 819.7,727.8 821.3,741.1 822.9,742.7 824.5,763.8 826.0,734.5 827.6,732.9 829.2,738.4 830.8,757.6 832.3,741.1 833.9,736.0 835.5,743.5 837.1,746.6 838.6,756.8 840.2,743.5 841.8,725.0 843.4,750.5 845.0,750.5 846.5,742.3 848.1,727.8 849.7,741.1 851.3,742.7 852.8,763.8 854.4,734.5 856.0,732.9 857.6,738.4 859.1,757.6 860.7,741.1 862.3,736.0 863.9,743.5 865.5,746.6 867.0,756.8 868.6,743.5 870.2,725.0 871.8,750.5 873.3,750.5 874.9,742.3 876.5,727.8 878.1,741.1 879.6,742.7 881.2,763.8 882.8,734.5 884.4,732.9 886.0,738.4 887.5,757.6 889.1,741.1 890.7,736.0 892.3,743.5 893.8,746.6 895.4,756.8 897.0,743.5 898.6,725.0 900.1,750.5 901.7,750.5 903.3,742.3 904.9,727.8 906.5,741.1 908.0,742.7 909.6,763.8 911.2,734.5 912.8,732.9 914.3,738.4 915.9,757.6 917.5,741.1 919.1,736.0 920.7,743.5 922.2,746.6 923.8,756.8 925.4,743.5 927.0,725.0 928.5,750.5 930.1,750.5 931.7,742.3 933.3,727.8 934.8,741.1 936.4,742.7 938.0,763.8 939.6,734.5 941.2,732.9 942.7,738.4 944.3,757.6 945.9,741.1 947.5,736.0 949.0,743.5 950.6,746.6 952.2,756.8 953.8,743.5 955.3,725.0 956.9,750.5 958.5,750.5 960.1,742.3 961.7,727.8 963.2,741.1 964.8,742.7 966.4,763.8 968.0,734.5 969.5,732.9 971.1,738.4 972.7,757.6 974.3,741.1 975.8,736.0 977.4,743.5 979.0,746.6 980.6,756.8 982.2,743.5 983.7,725.0 985.3,750.5 986.9,750.5 988.5,742.3 990.0,727.8 991.6,741.1 993.2,742.7 994.8,763.8 996.3,734.5 997.9,732.9 999.5,738.4 1001.1,757.6 1002.7,741.1 1004.2,736.0 1005.8,743.5 1007.4,746.6 1009.0,756.8 1010.5,743.5 1012.1,725.0 1013.7,750.5 1015.3,750.5 1016.8,742.3 1018.4,727.8 1020.0,741.1 1021.6,742.7 1023.2,763.8 1024.7,734.5 1026.3,732.9 1027.9,738.4 1029.5,757.6 1031.0,741.1 1032.6,736.0 1034.2,743.5 1035.8,746.6 1037.3,756.8 1038.9,743.5 1040.5,725.0 1042.1,750.5 1043.7,750.5 1045.2,742.3 1046.8,727.8 1048.4,741.1 1050.0,742.7 1051.5,763.8 1053.1,734.5 1054.7,732.9 1056.3,738.4 1057.8,757.6 1059.4,741.1 1061.0,736.0 1062.6,743.5 1064.2,746.6 1065.7,756.8 1067.3,743.5 1068.9,725.0 1070.5,750.5 1072.0,750.5 1073.6,742.3 1075.2,727.8 1076.8,741.1 1078.4,742.7 1079.9,763.8 1081.5,734.5 1083.1,732.9 1084.7,738.4 1086.2,757.6 1087.8,741.1 1089.4,736.0 1091.0,743.5 1092.5,746.6 1094.1,756.8 1095.7,743.5 1097.3,725.0 1098.9,750.5 1100.4,750.5 1102.0,742.3 1103.6,727.8 1105.2,741.1 1106.7,742.7 1108.3,763.8 1109.9,734.5 1111.5,732.9 1113.0,738.4 1114.6,757.6 1116.2,741.1 1117.8,736.0 1119.4,743.5 1120.9,746.6 1122.5,756.8 1124.1,743.5 1125.7,725.0 1127.2,750.5 1128.8,750.5 1130.4,742.3 1132.0,727.8 1133.5,741.1 1135.1,742.7 1136.7,763.8 1138.3,734.5 1139.9,732.9 1141.4,738.4 1143.0,757.6 1144.6,741.1 1146.2,736.0 1147.7,743.5 1149.3,746.6 1150.9,756.8 1152.5,743.5 1154.0,725.0 1155.6,750.5 1157.2,750.5 1158.8,742.3 1160.4,727.8 1161.9,741.1 1163.5,742.7 1165.1,763.8 1166.7,734.5 1168.2,732.9 1169.8,738.4 1171.4,757.6 1173.0,741.1 1174.5,736.0 1176.1,743.5 1177.7,746.6 1179.3,756.8 1180.9,743.5 1182.4,725.0 1184.0,750.5 1185.6,750.5 1187.2,742.3 1188.7,727.8 1190.3,741.1 1191.9,742.7 1193.5,763.8 1195.0,734.5 1196.6,732.9 1198.2,738.4 1199.8,757.6 1201.4,741.1 1202.9,736.0 1204.5,743.5 1206.1,746.6 1207.7,756.8 1209.2,743.5 1210.8,725.0 1212.4,750.5 1214.0,750.5 1215.5,742.3 1217.1,727.8 1218.7,741.1 1220.3,742.7 1221.9,763.8 1223.4,734.5 1225.0,732.9 1226.6,738.4 1228.2,757.6 1229.7,741.1 1231.3,736.0 1232.9,743.5 1234.5,746.6 1236.1,756.8 1237.6,743.5 1239.2,725.0 1240.8,750.5 1242.4,750.5 1243.9,742.3 1245.5,727.8 1247.1,741.1 1248.7,742.7 1250.2,763.8 1251.8,734.5 1253.4,732.9 1255.0,738.4 1256.6,757.6 1258.1,741.1 1259.7,736.0 1261.3,743.5 1262.9,746.6 1264.4,756.8 1266.0,743.5 1267.6,725.0 1269.2,750.5 1270.7,750.5 1272.3,742.3 1273.9,727.8 1275.5,741.1 1277.1,742.7 1278.6,763.8 1280.2,734.5 1281.8,732.9 1283.4,738.4 1284.9,757.6 1286.5,741.1 1288.1,736.0 1289.7,743.5 1291.2,746.6 1292.8,756.8 1294.4,743.5 1296.0,725.0 1297.6,750.5 1299.1,750.5 1300.7,742.3 1302.3,727.8 1303.9,741.1 1305.4,742.7 1307.0,763.8 1308.6,734.5 1310.2,732.9 1311.7,738.4 1313.3,757.6 1314.9,741.1 1316.5,736.0 1318.1,743.5 1319.6,746.6 1321.2,756.8 1322.8,743.5 1324.4,725.0 1325.9,750.5 1327.5,750.5 1329.1,742.3 1330.7,727.8 1332.2,741.1 1333.8,742.7 1335.4,763.8 1337.0,734.5 1338.6,732.9 1340.1,738.4 1341.7,757.6 1343.3,741.1 1344.9,736.0 1346.4,743.5 1348.0,746.6 1349.6,756.8 1351.2,743.5 1352.7,725.0 1354.3,750.5 1355.9,750.5 1357.5,742.3 1359.1,727.8 1360.6,741.1 1362.2,742.7 1363.8,763.8 1365.4,734.5 1366.9,732.9 1368.5,738.4 1370.1,757.6 1371.7,741.1 1373.2,736.0 1374.8,743.5 1376.4,746.6 1378.0,756.8 1379.6,743.5 1381.1,725.0 1382.7,750.5 1384.3,750.5 1385.9,742.3 1387.4,727.8 1389.0,741.1 1390.6,742.7 1392.2,763.8 1393.8,734.5 1395.3,732.9 1396.9,738.4 1398.5,757.6 1400.1,741.1 1401.6,736.0 1403.2,743.5 1404.8,746.6 1406.4,756.8 1407.9,743.5 1409.5,725.0 1411.1,750.5 1412.7,750.5 1414.3,742.3 1415.8,727.8 1417.4,741.1 1419.0,742.7 1420.6,763.8 1422.1,734.5 1423.7,732.9 1425.3,738.4 1426.9,757.6 1428.4,741.1 1430.0,736.0 1431.6,743.5 1433.2,746.6 1434.8,756.8 1436.3,743.5 1437.9,725.0 1439.5,750.5 1441.1,750.5 1442.6,742.3 1444.2,727.8 1445.8,741.1 1447.4,742.7 1448.9,763.8 1450.5,734.5 1452.1,732.9 1453.7,738.4 1455.3,757.6 1456.8,741.1 1458.4,736.0 1460.0,743.5 1461.6,746.6 1463.1,756.8 1464.7,743.5 1466.3,725.0 1467.9,750.5 1469.4,750.5 1471.0,742.3 1472.6,727.8 1474.2,741.1 1475.8,742.7 1477.3,763.8 1478.9,734.5 1480.5,732.9 1482.1,738.4 1483.6,757.6 1485.2,741.1 1486.8,736.0 1488.4,743.5 1489.9,746.6 1491.5,756.8 1493.1,743.5 1494.7,725.0 1496.3,750.5 1497.8,750.5 1499.4,742.3 1501.0,727.8 1502.6,741.1 1504.1,742.7 1505.7,763.8 1507.3,734.5 1508.9,732.9 1510.4,738.4 1512.0,757.6 1513.6,741.1 1515.2,736.0 1516.8,743.5 1518.3,746.6 1519.9,756.8 1521.5,743.5 1523.1,725.0 1524.6,750.5 1526.2,750.5 1527.8,742.3 1529.4,727.8 1531.0,741.1 1532.5,742.7 1534.1,763.8 1535.7,734.5 1537.3,732.9 1538.8,738.4 1540.4,757.6 1542.0,741.1 1543.6,736.0 1545.1,743.5 1546.7,746.6 1548.3,756.8 1549.9,743.5 1551.5,725.0 1553.0,750.5 1554.6,750.5 1556.2,742.3 1557.8,727.8 1559.3,741.1 1560.9,742.7 1562.5,763.8 1564.1,734.5 1565.6,732.9 1567.2,738.4 1568.8,757.6 1570.4,741.1 1572.0,736.0 1573.5,743.5 1575.1,746.6 1576.7,756.8 1578.3,743.5 1579.8,725.0 1581.4,750.5 1583.0,750.5 1584.6,742.3 1586.1,727.8 1587.7,741.1 1589.3,742.7 1590.9,763.8 1592.5,734.5 1594.0,732.9 1595.6,738.4 1597.2,757.6 1598.8,741.1 1600.3,736.0 1601.9,743.5 1603.5,746.6 1605.1,756.8 1606.6,743.5 1608.2,725.0 1609.8,750.5 1611.4,750.5 1613.0,742.3 1614.5,727.8 1616.1,741.1 1617.7,742.7 1619.3,763.8 1620.8,734.5 1622.4,732.9 1624.0,738.4 1625.6,757.6 1627.1,741.1 1628.7,736.0 1630.3,743.5 1631.9,746.6 1633.5,756.8 1635.0,743.5 1636.6,725.0 1638.2,750.5 1639.8,750.5 1641.3,742.3 1642.9,727.8 1644.5,741.1 1646.1,742.7 1647.6,763.8 1649.2,734.5 1650.8,732.9 1652.4,738.4 1654.0,757.6 1655.5,741.1 1657.1,736.0 1658.7,743.5 1660.3,746.6 1661.8,756.8 1663.4,743.5 1665.0,725.0 1666.6,750.5 1668.1,750.5 1669.7,742.3 1671.3,727.8 1672.9,741.1 1674.5,742.7 1676.0,763.8 1677.6,734.5 1679.2,732.9 1680.8,738.4 1682.3,757.6 1683.9,741.1 1685.5,736.0 1687.1,743.5 1688.7,746.6 1690.2,756.8 1691.8,743.5 1693.4,725.0 1695.0,750.5 1696.5,750.5 1698.1,742.3 1699.7,727.8 1701.3,741.1 1702.8,742.7 1704.4,763.8 1706.0,734.5 1707.6,732.9 1709.2,738.4 1710.7,757.6 1712.3,741.1 1713.9,736.0 1715.5,743.5 1717.0,746.6 1718.6,756.8 1720.2,743.5 1721.8,725.0 1723.3,750.5 1724.9,750.5 1726.5,742.3 1728.1,727.8 1729.7,741.1 1731.2,742.7 1732.8,763.8 1734.4,734.5 1736.0,732.9 1737.5,738.4 1739.1,757.6 1740.7,741.1 1742.3,736.0 1743.8,743.5 1745.4,746.6 1747.0,756.8 1748.6,743.5 1750.2,725.0 1751.7,750.5 1753.3,750.5 1754.9,742.3 1756.5,727.8 1758.0,741.1 1759.6,742.7 1761.2,763.8 1762.8,734.5 1764.3,732.9 1765.9,738.4 1767.5,757.6"/>
<ellipse cx="449.9" cy="1113.6" rx="17.4" ry="15.1" fill="#F44343"/>
</g>
<defs><clipPath id="clip"><rect x="193" y="25" width="1572" height="1268"/></clipPath></defs>
<g stroke="#000" stroke-width="5" fill="none"><line x1="348.2" y1="1295" x2="348.2" y2="1270"/><line x1="348.2" y1="23" x2="348.2" y2="47"/><line x1="505.9" y1="1295" x2="505.9" y2="1270"/><line x1="505.9" y1="23" x2="505.9" y2="47"/><line x1="663.6" y1="1295" x2="663.6" y2="1270"/><line x1="663.6" y1="23" x2="663.6" y2="47"/><line x1="821.3" y1="1295" x2="821.3" y2="1270"/><line x1="821.3" y1="23" x2="821.3" y2="47"/><line x1="979.0" y1="1295" x2="979.0" y2="1270"/><line x1="979.0" y1="23" x2="979.0" y2="47"/><line x1="1136.7" y1="1295" x2="1136.7" y2="1270"/><line x1="1136.7" y1="23" x2="1136.7" y2="47"/><line x1="1294.4" y1="1295" x2="1294.4" y2="1270"/><line x1="1294.4" y1="23" x2="1294.4" y2="47"/><line x1="1452.1" y1="1295" x2="1452.1" y2="1270"/><line x1="1452.1" y1="23" x2="1452.1" y2="47"/><line x1="1609.8" y1="1295" x2="1609.8" y2="1270"/><line x1="1609.8" y1="23" x2="1609.8" y2="47"/><line x1="191" y1="1100.0" x2="215" y2="1100.0"/><line x1="1767" y1="1100.0" x2="1743" y2="1100.0"/><line x1="191" y1="904.1" x2="215" y2="904.1"/><line x1="1767" y1="904.1" x2="1743" y2="904.1"/><line x1="191" y1="708.2" x2="215" y2="708.2"/><line x1="1767" y1="708.2" x2="1743" y2="708.2"/><line x1="191" y1="512.3" x2="215" y2="512.3"/><line x1="1767" y1="512.3" x2="1743" y2="512.3"/><line x1="191" y1="316.4" x2="215" y2="316.4"/><line x1="1767" y1="316.4" x2="1743" y2="316.4"/><line x1="191" y1="120.5" x2="215" y2="120.5"/><line x1="1767" y1="120.5" x2="1743" y2="120.5"/></g>
<rect x="190.5" y="22.5" width="1577.0" height="1273.0" fill="none" stroke="#000" stroke-width="5"/>
<rect x="1325.5" y="38.5" width="423" height="377.5" fill="#fdfdfd" stroke="#000" stroke-width="1"/>
<line x1="1335" y1="80.0" x2="1467" y2="80.0" stroke="#F44343" stroke-width="7.8"/><circle cx="1335" cy="80.0" r="3.9" fill="#F44343"/>
<text x="1484" y="99.6" font-family="Liberation Serif, serif" font-size="60">TOLB</text>
<line x1="1335" y1="153.8" x2="1467" y2="153.8" stroke="#186BDE" stroke-width="7.8"/><circle cx="1335" cy="153.8" r="3.9" fill="#186BDE"/>
<text x="1484" y="173.4" font-family="Liberation Serif, serif" font-size="60">TD3-TR</text>
<line x1="1335" y1="227.7" x2="1467" y2="227.7" stroke="#505050" stroke-width="7.8"/><circle cx="1335" cy="227.7" r="3.9" fill="#505050"/>
<text x="1484" y="247.3" font-family="Liberation Serif, serif" font-size="60" textLength="254.6" lengthAdjust="spacing">DDPG-TR</text>
<line x1="1335" y1="301.5" x2="1467" y2="301.5" stroke="#32AD6C" stroke-width="7.8"/><circle cx="1335" cy="301.5" r="3.9" fill="#32AD6C"/>
<text x="1484" y="321.1" font-family="Liberation Serif, serif" font-size="60">AEO</text>
<line x1="1335" y1="375.4" x2="1467" y2="375.4" stroke="#B375DD" stroke-width="7.8"/><circle cx="1335" cy="375.4" r="3.9" fill="#B375DD"/>
<text x="1484" y="395.0" font-family="Liberation Serif, serif" font-size="60">ARO</text>
<g font-family="Liberation Serif, serif" font-size="54" fill="#000"><text x="191.0" y="1366.3" text-anchor="middle">0</text><text x="348.7" y="1366.3" text-anchor="middle">100</text><text x="506.4" y="1366.3" text-anchor="middle">200</text><text x="664.1" y="1366.3" text-anchor="middle">300</text><text x="821.8" y="1366.3" text-anchor="middle">400</text><text x="979.5" y="1366.3" text-anchor="middle">500</text><text x="1137.2" y="1366.3" text-anchor="middle">600</text><text x="1294.9" y="1366.3" text-anchor="middle">700</text><text x="1452.6" y="1366.3" text-anchor="middle">800</text><text x="1610.3" y="1366.3" text-anchor="middle">900</text><text x="1768.0" y="1366.3" text-anchor="middle">1000</text><text x="162.5" y="1315.9" text-anchor="end">350</text><text x="162.5" y="1120.0" text-anchor="end">400</text><text x="162.5" y="924.1" text-anchor="end">450</text><text x="162.5" y="728.2" text-anchor="end">500</text><text x="162.5" y="532.3" text-anchor="end">550</text><text x="162.5" y="336.4" text-anchor="end">600</text><text x="162.5" y="140.5" text-anchor="end">650</text></g><text x="979" y="1452" text-anchor="middle" font-family="Liberation Serif, serif" font-size="60">Episode</text><text transform="translate(56,658.2) rotate(-90)" text-anchor="middle" font-family="Liberation Serif, serif" font-size="60.4">Average cost of the system</text>
</svg>
</body></html>
